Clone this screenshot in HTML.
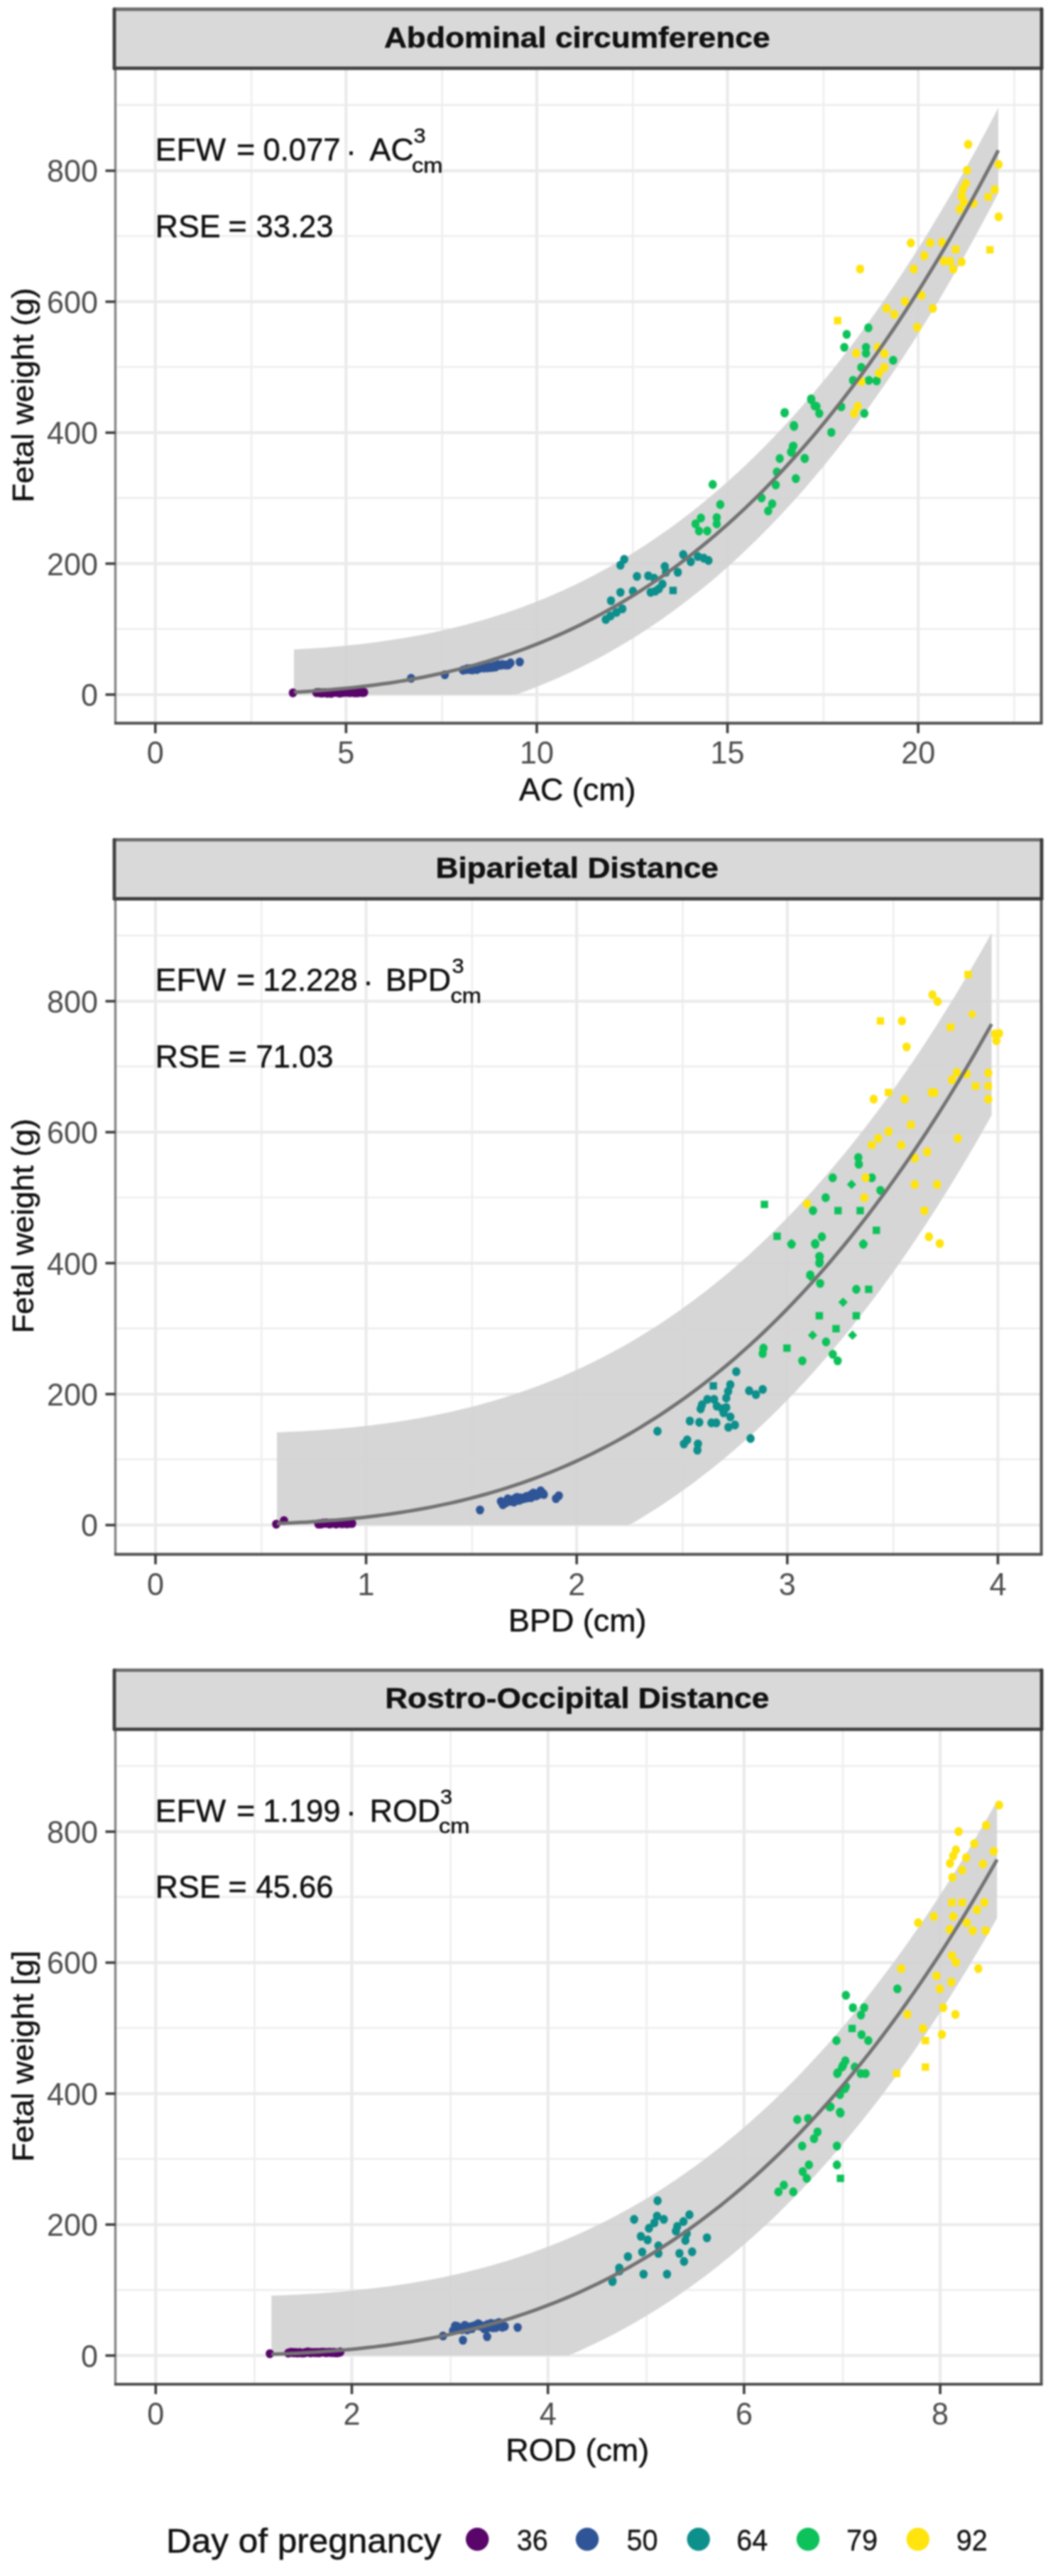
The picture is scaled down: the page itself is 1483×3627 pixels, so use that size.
<!DOCTYPE html>
<html lang="en"><head><meta charset="utf-8"><title>Fetal weight estimation</title>
<style>
html,body{margin:0;padding:0;background:#fff;}
body{width:1483px;height:3627px;overflow:hidden;}
svg{display:block;filter:blur(0.9px);}
</style></head><body>
<svg width="1483" height="3627" viewBox="0 0 1483 3627" font-family='"Liberation Sans", Arial, Helvetica, sans-serif' stroke-width="0.5">
<rect width="1483" height="3627" fill="#fff"/>
<g>
<clipPath id="cp0"><rect x="162.5" y="96.5" width="1303.5" height="921.8"/></clipPath>
<g clip-path="url(#cp0)">
<g stroke="#eaeaea"><line x1="162.5" x2="1466" y1="885.5" y2="885.5" stroke-width="2.6" stroke="#eeeeee"/><line x1="162.5" x2="1466" y1="701.1" y2="701.1" stroke-width="2.6" stroke="#eeeeee"/><line x1="162.5" x2="1466" y1="516.7" y2="516.7" stroke-width="2.6" stroke="#eeeeee"/><line x1="162.5" x2="1466" y1="332.3" y2="332.3" stroke-width="2.6" stroke="#eeeeee"/><line x1="162.5" x2="1466" y1="147.9" y2="147.9" stroke-width="2.6" stroke="#eeeeee"/><line x1="354.05" x2="354.05" y1="96.5" y2="1018.3" stroke-width="2.6" stroke="#eeeeee"/><line x1="622.65" x2="622.65" y1="96.5" y2="1018.3" stroke-width="2.6" stroke="#eeeeee"/><line x1="891.25" x2="891.25" y1="96.5" y2="1018.3" stroke-width="2.6" stroke="#eeeeee"/><line x1="1159.85" x2="1159.85" y1="96.5" y2="1018.3" stroke-width="2.6" stroke="#eeeeee"/><line x1="1428.45" x2="1428.45" y1="96.5" y2="1018.3" stroke-width="2.6" stroke="#eeeeee"/><line x1="162.5" x2="1466" y1="978" y2="978" stroke-width="4"/><line x1="162.5" x2="1466" y1="793.6" y2="793.6" stroke-width="4"/><line x1="162.5" x2="1466" y1="609.2" y2="609.2" stroke-width="4"/><line x1="162.5" x2="1466" y1="424.8" y2="424.8" stroke-width="4"/><line x1="162.5" x2="1466" y1="240.4" y2="240.4" stroke-width="4"/><line x1="218.75" x2="218.75" y1="96.5" y2="1018.3" stroke-width="4"/><line x1="487.35" x2="487.35" y1="96.5" y2="1018.3" stroke-width="4"/><line x1="755.95" x2="755.95" y1="96.5" y2="1018.3" stroke-width="4"/><line x1="1024.55" x2="1024.55" y1="96.5" y2="1018.3" stroke-width="4"/><line x1="1293.15" x2="1293.15" y1="96.5" y2="1018.3" stroke-width="4"/></g>
<path d="M414.02 914.54 L422.29 914.09 L430.55 913.6 L438.82 913.07 L447.09 912.5 L455.35 911.88 L463.62 911.23 L471.89 910.52 L480.15 909.77 L488.42 908.97 L496.68 908.12 L504.95 907.21 L513.22 906.26 L521.48 905.24 L529.75 904.17 L538.01 903.05 L546.28 901.86 L554.55 900.61 L562.81 899.3 L571.08 897.92 L579.35 896.48 L587.61 894.97 L595.88 893.39 L604.14 891.74 L612.41 890.01 L620.68 888.22 L628.94 886.34 L637.21 884.39 L645.47 882.37 L653.74 880.26 L662.01 878.07 L670.27 875.79 L678.54 873.44 L686.81 870.99 L695.07 868.46 L703.34 865.84 L711.6 863.13 L719.87 860.32 L728.14 857.42 L736.4 854.43 L744.67 851.33 L752.93 848.14 L761.2 844.85 L769.47 841.46 L777.73 837.96 L786 834.36 L794.27 830.66 L802.53 826.84 L810.8 822.91 L819.06 818.88 L827.33 814.73 L835.6 810.47 L843.86 806.09 L852.13 801.59 L860.4 796.97 L868.66 792.24 L876.93 787.38 L885.19 782.4 L893.46 777.29 L901.73 772.06 L909.99 766.7 L918.26 761.2 L926.52 755.58 L934.79 749.83 L943.06 743.94 L951.32 737.91 L959.59 731.75 L967.86 725.44 L976.12 719 L984.39 712.42 L992.65 705.69 L1000.92 698.81 L1009.19 691.79 L1017.45 684.62 L1025.72 677.3 L1033.98 669.83 L1042.25 662.21 L1050.52 654.43 L1058.78 646.49 L1067.05 638.4 L1075.32 630.15 L1083.58 621.73 L1091.85 613.16 L1100.11 604.42 L1108.38 595.51 L1116.65 586.44 L1124.91 577.2 L1133.18 567.79 L1141.44 558.21 L1149.71 548.45 L1157.98 538.52 L1166.24 528.42 L1174.51 518.13 L1182.78 507.67 L1191.04 497.03 L1199.31 486.2 L1207.57 475.19 L1215.84 463.99 L1224.11 452.61 L1232.37 441.03 L1240.64 429.27 L1248.9 417.31 L1257.17 405.17 L1265.44 392.82 L1273.7 380.28 L1281.97 367.54 L1290.24 354.61 L1298.5 341.47 L1306.77 328.13 L1315.03 314.58 L1323.3 300.83 L1331.57 286.87 L1339.83 272.7 L1348.1 258.32 L1356.37 243.73 L1364.63 228.93 L1372.9 213.91 L1381.16 198.67 L1389.43 183.22 L1397.7 167.55 L1405.96 151.65 L1405.96 271.75 L1397.7 287.65 L1389.43 303.32 L1381.16 318.77 L1372.9 334.01 L1364.63 349.03 L1356.37 363.83 L1348.1 378.42 L1339.83 392.8 L1331.57 406.97 L1323.3 420.93 L1315.03 434.68 L1306.77 448.23 L1298.5 461.57 L1290.24 474.71 L1281.97 487.65 L1273.7 500.38 L1265.44 512.92 L1257.17 525.27 L1248.9 537.42 L1240.64 549.37 L1232.37 561.13 L1224.11 572.71 L1215.84 584.09 L1207.57 595.29 L1199.31 606.3 L1191.04 617.13 L1182.78 627.77 L1174.51 638.24 L1166.24 648.52 L1157.98 658.63 L1149.71 668.56 L1141.44 678.31 L1133.18 687.89 L1124.91 697.3 L1116.65 706.54 L1108.38 715.62 L1100.11 724.52 L1091.85 733.26 L1083.58 741.83 L1075.32 750.25 L1067.05 758.5 L1058.78 766.59 L1050.52 774.53 L1042.25 782.31 L1033.98 789.93 L1025.72 797.4 L1017.45 804.72 L1009.19 811.89 L1000.92 818.91 L992.65 825.79 L984.39 832.52 L976.12 839.1 L967.86 845.55 L959.59 851.85 L951.32 858.01 L943.06 864.04 L934.79 869.93 L926.52 875.68 L918.26 881.31 L909.99 886.8 L901.73 892.16 L893.46 897.39 L885.19 902.5 L876.93 907.48 L868.66 912.34 L860.4 917.07 L852.13 921.69 L843.86 926.19 L835.6 930.57 L827.33 934.83 L819.06 938.98 L810.8 943.02 L802.53 946.94 L794.27 950.76 L786 954.46 L777.73 958.07 L769.47 961.56 L761.2 964.95 L752.93 968.25 L744.67 971.44 L736.4 974.53 L728.14 977.52 L719.87 978 L711.6 978 L703.34 978 L695.07 978 L686.81 978 L678.54 978 L670.27 978 L662.01 978 L653.74 978 L645.47 978 L637.21 978 L628.94 978 L620.68 978 L612.41 978 L604.14 978 L595.88 978 L587.61 978 L579.35 978 L571.08 978 L562.81 978 L554.55 978 L546.28 978 L538.01 978 L529.75 978 L521.48 978 L513.22 978 L504.95 978 L496.68 978 L488.42 978 L480.15 978 L471.89 978 L463.62 978 L455.35 978 L447.09 978 L438.82 978 L430.55 978 L422.29 978 L414.02 978 Z" fill="#d1d1d1" fill-opacity="0.9"/>
<g fill="#59056a"><ellipse cx="412.5" cy="975.5" rx="5.8" ry="6.3"/><ellipse cx="445.65" cy="975.23" rx="5.8" ry="6.3"/><ellipse cx="448.8" cy="975.06" rx="5.8" ry="6.3"/><ellipse cx="451.07" cy="975.5" rx="5.8" ry="6.3"/><ellipse cx="452.62" cy="975.7" rx="5.8" ry="6.3"/><ellipse cx="455.07" cy="975.55" rx="5.8" ry="6.3"/><ellipse cx="457.64" cy="974.96" rx="5.8" ry="6.3"/><ellipse cx="460.85" cy="976.1" rx="5.8" ry="6.3"/><ellipse cx="462.75" cy="975.1" rx="5.8" ry="6.3"/><ellipse cx="466.25" cy="976.21" rx="5.8" ry="6.3"/><ellipse cx="468.65" cy="975.3" rx="5.8" ry="6.3"/><ellipse cx="471.95" cy="974.69" rx="5.8" ry="6.3"/><ellipse cx="474.22" cy="975.05" rx="5.8" ry="6.3"/><ellipse cx="475.29" cy="974.76" rx="5.8" ry="6.3"/><ellipse cx="478.12" cy="975.83" rx="5.8" ry="6.3"/><ellipse cx="480.36" cy="975.43" rx="5.8" ry="6.3"/><ellipse cx="483.78" cy="975.04" rx="5.8" ry="6.3"/><ellipse cx="486.1" cy="974.51" rx="5.8" ry="6.3"/><ellipse cx="487.62" cy="974.72" rx="5.8" ry="6.3"/><ellipse cx="491.36" cy="975.02" rx="5.8" ry="6.3"/><ellipse cx="493.13" cy="975.25" rx="5.8" ry="6.3"/><ellipse cx="495.91" cy="974.75" rx="5.8" ry="6.3"/><ellipse cx="499.09" cy="975.35" rx="5.8" ry="6.3"/><ellipse cx="500.49" cy="975.13" rx="5.8" ry="6.3"/><ellipse cx="503.55" cy="975.56" rx="5.8" ry="6.3"/><ellipse cx="506.46" cy="974.58" rx="5.8" ry="6.3"/><ellipse cx="509.46" cy="974.27" rx="5.8" ry="6.3"/><ellipse cx="510.84" cy="975.27" rx="5.8" ry="6.3"/><ellipse cx="512.8" cy="974.81" rx="5.8" ry="6.3"/></g>
<g fill="#2f5597"><ellipse cx="579" cy="955" rx="5.8" ry="6.3"/><ellipse cx="626.5" cy="950" rx="5.8" ry="6.3"/><ellipse cx="732" cy="932" rx="5.8" ry="6.3"/><ellipse cx="652.07" cy="943.66" rx="5.8" ry="6.3"/><ellipse cx="655.65" cy="942.86" rx="5.8" ry="6.3"/><ellipse cx="658.12" cy="941.53" rx="5.8" ry="6.3"/><ellipse cx="660.06" cy="942.43" rx="5.8" ry="6.3"/><ellipse cx="662.12" cy="941.63" rx="5.8" ry="6.3"/><ellipse cx="664.86" cy="943.27" rx="5.8" ry="6.3"/><ellipse cx="666.46" cy="941.96" rx="5.8" ry="6.3"/><ellipse cx="667.98" cy="941.93" rx="5.8" ry="6.3"/><ellipse cx="671.31" cy="942.7" rx="5.8" ry="6.3"/><ellipse cx="673.89" cy="939.56" rx="5.8" ry="6.3"/><ellipse cx="675.37" cy="940.93" rx="5.8" ry="6.3"/><ellipse cx="676.97" cy="939.91" rx="5.8" ry="6.3"/><ellipse cx="679.5" cy="938.23" rx="5.8" ry="6.3"/><ellipse cx="681.57" cy="940.59" rx="5.8" ry="6.3"/><ellipse cx="683.97" cy="938.23" rx="5.8" ry="6.3"/><ellipse cx="686.71" cy="940.4" rx="5.8" ry="6.3"/><ellipse cx="688.41" cy="938.51" rx="5.8" ry="6.3"/><ellipse cx="691.53" cy="939.88" rx="5.8" ry="6.3"/><ellipse cx="694.29" cy="939.48" rx="5.8" ry="6.3"/><ellipse cx="695.57" cy="937.54" rx="5.8" ry="6.3"/><ellipse cx="697.98" cy="939.13" rx="5.8" ry="6.3"/><ellipse cx="701.34" cy="935.8" rx="5.8" ry="6.3"/><ellipse cx="702.19" cy="936.02" rx="5.8" ry="6.3"/><ellipse cx="704.56" cy="936.76" rx="5.8" ry="6.3"/><ellipse cx="707.47" cy="935.53" rx="5.8" ry="6.3"/><ellipse cx="708.67" cy="936.01" rx="5.8" ry="6.3"/><ellipse cx="711.6" cy="936.25" rx="5.8" ry="6.3"/><ellipse cx="714.93" cy="936.36" rx="5.8" ry="6.3"/><ellipse cx="716.4" cy="935.89" rx="5.8" ry="6.3"/><ellipse cx="718.96" cy="933.34" rx="5.8" ry="6.3"/></g>
<g fill="#0d8f8c"><ellipse cx="879.11" cy="787.51" rx="5.8" ry="6.3"/><ellipse cx="873.79" cy="795.82" rx="5.8" ry="6.3"/><ellipse cx="897.06" cy="811.44" rx="5.8" ry="6.3"/><ellipse cx="913.01" cy="810.78" rx="5.8" ry="6.3"/><ellipse cx="921.32" cy="814.1" rx="5.8" ry="6.3"/><ellipse cx="936.28" cy="797.48" rx="5.8" ry="6.3"/><ellipse cx="937.94" cy="805.79" rx="5.8" ry="6.3"/><ellipse cx="962.2" cy="780.86" rx="5.8" ry="6.3"/><ellipse cx="954.56" cy="805.79" rx="5.8" ry="6.3"/><ellipse cx="972.84" cy="790.83" rx="5.8" ry="6.3"/><ellipse cx="982.81" cy="783.52" rx="5.8" ry="6.3"/><ellipse cx="991.12" cy="785.85" rx="5.8" ry="6.3"/><ellipse cx="997.77" cy="789.17" rx="5.8" ry="6.3"/><ellipse cx="932.95" cy="822.41" rx="5.8" ry="6.3"/><ellipse cx="927.97" cy="829.06" rx="5.8" ry="6.3"/><ellipse cx="916.33" cy="834.04" rx="5.8" ry="6.3"/><ellipse cx="922.98" cy="832.38" rx="5.8" ry="6.3"/><rect x="942.71" y="826.18" width="10.4" height="10.4"/><ellipse cx="891.4" cy="832.38" rx="5.8" ry="6.3"/><ellipse cx="873.79" cy="834.04" rx="5.8" ry="6.3"/><ellipse cx="860.49" cy="845.68" rx="5.8" ry="6.3"/><ellipse cx="876.45" cy="857.31" rx="5.8" ry="6.3"/><ellipse cx="868.14" cy="862.29" rx="5.8" ry="6.3"/><ellipse cx="859.83" cy="867.28" rx="5.8" ry="6.3"/><ellipse cx="853.18" cy="872.27" rx="5.8" ry="6.3"/></g>
<g fill="#0dc25a"><ellipse cx="1222.98" cy="461.44" rx="5.8" ry="6.3"/><ellipse cx="1192.4" cy="470.75" rx="5.8" ry="6.3"/><ellipse cx="1189.08" cy="489.03" rx="5.8" ry="6.3"/><ellipse cx="1219.66" cy="489.03" rx="5.8" ry="6.3"/><ellipse cx="1219.66" cy="497.34" rx="5.8" ry="6.3"/><ellipse cx="1257.88" cy="507.31" rx="5.8" ry="6.3"/><ellipse cx="1213.01" cy="517.28" rx="5.8" ry="6.3"/><ellipse cx="1201.38" cy="535.56" rx="5.8" ry="6.3"/><ellipse cx="1223.65" cy="535.56" rx="5.8" ry="6.3"/><ellipse cx="1234.61" cy="536.23" rx="5.8" ry="6.3"/><ellipse cx="1142.54" cy="562.82" rx="5.8" ry="6.3"/><ellipse cx="1149.86" cy="572.12" rx="5.8" ry="6.3"/><ellipse cx="1153.85" cy="582.09" rx="5.8" ry="6.3"/><ellipse cx="1184.76" cy="572.79" rx="5.8" ry="6.3"/><ellipse cx="1217.33" cy="582.09" rx="5.8" ry="6.3"/><ellipse cx="1104.99" cy="581.43" rx="5.8" ry="6.3"/><ellipse cx="1118.28" cy="600.38" rx="5.8" ry="6.3"/><ellipse cx="1170.8" cy="608.69" rx="5.8" ry="6.3"/><ellipse cx="1116.62" cy="628.63" rx="5.8" ry="6.3"/><ellipse cx="1114.96" cy="636.94" rx="5.8" ry="6.3"/><ellipse cx="1133.24" cy="645.25" rx="5.8" ry="6.3"/><ellipse cx="1105.13" cy="580.77" rx="5.8" ry="6.3"/><ellipse cx="1142.35" cy="561.49" rx="5.8" ry="6.3"/><ellipse cx="1147.34" cy="571.46" rx="5.8" ry="6.3"/><ellipse cx="1118.09" cy="599.05" rx="5.8" ry="6.3"/><ellipse cx="1117.42" cy="627.97" rx="5.8" ry="6.3"/><ellipse cx="1114.1" cy="636.28" rx="5.8" ry="6.3"/><ellipse cx="1098.15" cy="645.58" rx="5.8" ry="6.3"/><ellipse cx="1133.38" cy="645.58" rx="5.8" ry="6.3"/><ellipse cx="1094.16" cy="664.53" rx="5.8" ry="6.3"/><ellipse cx="1120.75" cy="673.84" rx="5.8" ry="6.3"/><ellipse cx="1092.49" cy="682.81" rx="5.8" ry="6.3"/><ellipse cx="1072.55" cy="701.09" rx="5.8" ry="6.3"/><ellipse cx="1087.51" cy="709.4" rx="5.8" ry="6.3"/><ellipse cx="1081.86" cy="719.37" rx="5.8" ry="6.3"/><ellipse cx="1003.75" cy="682.14" rx="5.8" ry="6.3"/><ellipse cx="1014.39" cy="710.4" rx="5.8" ry="6.3"/><ellipse cx="1009.4" cy="728.68" rx="5.8" ry="6.3"/><ellipse cx="987.13" cy="729.34" rx="5.8" ry="6.3"/><ellipse cx="979.49" cy="737.65" rx="5.8" ry="6.3"/><ellipse cx="1009.4" cy="737.65" rx="5.8" ry="6.3"/><ellipse cx="984.47" cy="747.62" rx="5.8" ry="6.3"/><ellipse cx="996.1" cy="747.62" rx="5.8" ry="6.3"/></g>
<g fill="#ffe40d"><ellipse cx="1363.58" cy="203.18" rx="5.8" ry="6.3"/><ellipse cx="1406.45" cy="231.43" rx="5.8" ry="6.3"/><ellipse cx="1361.92" cy="239.74" rx="5.8" ry="6.3"/><ellipse cx="1360.25" cy="258.02" rx="5.8" ry="6.3"/><ellipse cx="1355.93" cy="266.33" rx="5.8" ry="6.3"/><ellipse cx="1354.27" cy="276.3" rx="5.8" ry="6.3"/><ellipse cx="1357.59" cy="284.61" rx="5.8" ry="6.3"/><ellipse cx="1351.61" cy="294.59" rx="5.8" ry="6.3"/><ellipse cx="1370.89" cy="286.28" rx="5.8" ry="6.3"/><ellipse cx="1400.8" cy="267" rx="5.8" ry="6.3"/><rect x="1386.63" y="272.1" width="10.4" height="10.4"/><ellipse cx="1406.45" cy="305.22" rx="5.8" ry="6.3"/><rect x="1388.96" y="346.55" width="10.4" height="10.4"/><ellipse cx="1282.81" cy="342.12" rx="5.8" ry="6.3"/><ellipse cx="1310.06" cy="341.78" rx="5.8" ry="6.3"/><ellipse cx="1326.68" cy="341.12" rx="5.8" ry="6.3"/><rect x="1340.76" y="345.89" width="10.4" height="10.4"/><ellipse cx="1301.75" cy="360.06" rx="5.8" ry="6.3"/><ellipse cx="1329.34" cy="367.71" rx="5.8" ry="6.3"/><ellipse cx="1337.65" cy="367.71" rx="5.8" ry="6.3"/><ellipse cx="1354.27" cy="368.71" rx="5.8" ry="6.3"/><ellipse cx="1342.64" cy="378.68" rx="5.8" ry="6.3"/><ellipse cx="1286.8" cy="378.68" rx="5.8" ry="6.3"/><ellipse cx="1211.35" cy="378.68" rx="5.8" ry="6.3"/><ellipse cx="1297.77" cy="415.9" rx="5.8" ry="6.3"/><ellipse cx="1274.5" cy="424.21" rx="5.8" ry="6.3"/><ellipse cx="1248.57" cy="434.19" rx="5.8" ry="6.3"/><ellipse cx="1259.54" cy="442.49" rx="5.8" ry="6.3"/><ellipse cx="1313.72" cy="434.19" rx="5.8" ry="6.3"/><ellipse cx="1291.78" cy="460.78" rx="5.8" ry="6.3"/><rect x="1174.57" y="446.27" width="10.4" height="10.4"/><ellipse cx="1205.7" cy="497.34" rx="5.8" ry="6.3"/><ellipse cx="1236.28" cy="489.03" rx="5.8" ry="6.3"/><ellipse cx="1245.58" cy="498" rx="5.8" ry="6.3"/><ellipse cx="1245.25" cy="517.28" rx="5.8" ry="6.3"/><ellipse cx="1237.94" cy="525.59" rx="5.8" ry="6.3"/><ellipse cx="1213.01" cy="537.22" rx="5.8" ry="6.3"/><ellipse cx="1208.02" cy="572.12" rx="5.8" ry="6.3"/><ellipse cx="1203.04" cy="582.09" rx="5.8" ry="6.3"/></g>
<path d="M414.02 974.59 L422.29 974.14 L430.55 973.65 L438.82 973.12 L447.09 972.55 L455.35 971.93 L463.62 971.28 L471.89 970.57 L480.15 969.82 L488.42 969.02 L496.68 968.17 L504.95 967.26 L513.22 966.31 L521.48 965.29 L529.75 964.23 L538.01 963.1 L546.28 961.91 L554.55 960.66 L562.81 959.35 L571.08 957.97 L579.35 956.53 L587.61 955.02 L595.88 953.44 L604.14 951.79 L612.41 950.06 L620.68 948.27 L628.94 946.39 L637.21 944.44 L645.47 942.42 L653.74 940.31 L662.01 938.12 L670.27 935.84 L678.54 933.49 L686.81 931.04 L695.07 928.51 L703.34 925.89 L711.6 923.18 L719.87 920.37 L728.14 917.47 L736.4 914.48 L744.67 911.39 L752.93 908.19 L761.2 904.9 L769.47 901.51 L777.73 898.01 L786 894.41 L794.27 890.71 L802.53 886.89 L810.8 882.96 L819.06 878.93 L827.33 874.78 L835.6 870.52 L843.86 866.14 L852.13 861.64 L860.4 857.02 L868.66 852.29 L876.93 847.43 L885.19 842.45 L893.46 837.34 L901.73 832.11 L909.99 826.75 L918.26 821.26 L926.52 815.63 L934.79 809.88 L943.06 803.99 L951.32 797.96 L959.59 791.8 L967.86 785.49 L976.12 779.05 L984.39 772.47 L992.65 765.74 L1000.92 758.86 L1009.19 751.84 L1017.45 744.67 L1025.72 737.35 L1033.98 729.88 L1042.25 722.26 L1050.52 714.48 L1058.78 706.54 L1067.05 698.45 L1075.32 690.2 L1083.58 681.78 L1091.85 673.21 L1100.11 664.47 L1108.38 655.57 L1116.65 646.49 L1124.91 637.25 L1133.18 627.84 L1141.44 618.26 L1149.71 608.51 L1157.98 598.58 L1166.24 588.47 L1174.51 578.18 L1182.78 567.72 L1191.04 557.08 L1199.31 546.25 L1207.57 535.24 L1215.84 524.04 L1224.11 512.66 L1232.37 501.08 L1240.64 489.32 L1248.9 477.37 L1257.17 465.22 L1265.44 452.87 L1273.7 440.33 L1281.97 427.59 L1290.24 414.66 L1298.5 401.52 L1306.77 388.18 L1315.03 374.63 L1323.3 360.88 L1331.57 346.92 L1339.83 332.75 L1348.1 318.37 L1356.37 303.78 L1364.63 288.98 L1372.9 273.96 L1381.16 258.72 L1389.43 243.27 L1397.7 227.6 L1405.96 211.7" fill="none" stroke="#737373" stroke-width="5" stroke-linecap="butt" stroke-linejoin="round"/>
</g>
<line x1="162.5" x2="162.5" y1="96.5" y2="1019.8" stroke="#858585" stroke-width="3.4"/>
<line x1="1466.6" x2="1466.6" y1="96.5" y2="1019.8" stroke="#555555" stroke-width="4"/>
<line x1="161" x2="1468.2" y1="1018.3" y2="1018.3" stroke="#505050" stroke-width="4"/>
<rect x="161" y="13" width="1306" height="83.5" fill="#d9d9d9"/>
<g stroke-width="4.8" stroke-linecap="round">
<line x1="161" x2="1467" y1="13" y2="13" stroke="#6e6e6e"/>
<line x1="161" x2="1467" y1="96.2" y2="96.2" stroke="#414141"/>
<line x1="161" x2="161" y1="13" y2="96.5" stroke="#414141"/>
<line x1="1467" x2="1467" y1="13" y2="96.5" stroke="#3a3a3a"/>
</g>
<text transform="translate(812.7 66.5) scale(1.08 1)" font-size="41" fill="#111" stroke="#111" text-anchor="middle" font-weight="bold">Abdominal circumference</text>
<g stroke="#3d3d3d" stroke-width="3.6"><line x1="148.5" x2="162.5" y1="978" y2="978"/><line x1="148.5" x2="162.5" y1="793.6" y2="793.6"/><line x1="148.5" x2="162.5" y1="609.2" y2="609.2"/><line x1="148.5" x2="162.5" y1="424.8" y2="424.8"/><line x1="148.5" x2="162.5" y1="240.4" y2="240.4"/><line x1="218.75" x2="218.75" y1="1018.3" y2="1032.3"/><line x1="487.35" x2="487.35" y1="1018.3" y2="1032.3"/><line x1="755.95" x2="755.95" y1="1018.3" y2="1032.3"/><line x1="1024.55" x2="1024.55" y1="1018.3" y2="1032.3"/><line x1="1293.15" x2="1293.15" y1="1018.3" y2="1032.3"/></g>
<text transform="translate(138 994) scale(0.97 1)" font-size="44.5" fill="#4d4d4d" stroke="#4d4d4d" text-anchor="end" font-weight="normal" stroke-width="0">0</text>
<text transform="translate(138 809.6) scale(0.97 1)" font-size="44.5" fill="#4d4d4d" stroke="#4d4d4d" text-anchor="end" font-weight="normal" stroke-width="0">200</text>
<text transform="translate(138 625.2) scale(0.97 1)" font-size="44.5" fill="#4d4d4d" stroke="#4d4d4d" text-anchor="end" font-weight="normal" stroke-width="0">400</text>
<text transform="translate(138 440.8) scale(0.97 1)" font-size="44.5" fill="#4d4d4d" stroke="#4d4d4d" text-anchor="end" font-weight="normal" stroke-width="0">600</text>
<text transform="translate(138 256.4) scale(0.97 1)" font-size="44.5" fill="#4d4d4d" stroke="#4d4d4d" text-anchor="end" font-weight="normal" stroke-width="0">800</text>
<text transform="translate(218.75 1075.3) scale(0.97 1)" font-size="44.5" fill="#4d4d4d" stroke="#4d4d4d" text-anchor="middle" font-weight="normal" stroke-width="0">0</text>
<text transform="translate(487.35 1075.3) scale(0.97 1)" font-size="44.5" fill="#4d4d4d" stroke="#4d4d4d" text-anchor="middle" font-weight="normal" stroke-width="0">5</text>
<text transform="translate(755.95 1075.3) scale(0.97 1)" font-size="44.5" fill="#4d4d4d" stroke="#4d4d4d" text-anchor="middle" font-weight="normal" stroke-width="0">10</text>
<text transform="translate(1024.55 1075.3) scale(0.97 1)" font-size="44.5" fill="#4d4d4d" stroke="#4d4d4d" text-anchor="middle" font-weight="normal" stroke-width="0">15</text>
<text transform="translate(1293.15 1075.3) scale(0.97 1)" font-size="44.5" fill="#4d4d4d" stroke="#4d4d4d" text-anchor="middle" font-weight="normal" stroke-width="0">20</text>
<text transform="translate(813.25 1126.8) scale(1.02 1)" font-size="44" fill="#111" stroke="#111" text-anchor="middle" font-weight="normal">AC (cm)</text>
<text transform="translate(46.5 556.4) rotate(-90) scale(1.02 1)" font-size="43" fill="#111" stroke="#111" text-anchor="middle" font-weight="normal">Fetal weight (g)</text>
<text transform="translate(218.5 226) scale(1.02 1)" font-size="44" fill="#111" stroke="#111" text-anchor="start" font-weight="normal">EFW</text>
<text transform="translate(333 226) scale(1.02 1)" font-size="44" fill="#111" stroke="#111" text-anchor="start" font-weight="normal">=</text>
<text transform="translate(370.5 226) scale(0.99 1)" font-size="44" fill="#111" stroke="#111" text-anchor="start" font-weight="normal">0.077</text>
<text transform="translate(494.5 227.5) scale(1.02 1)" font-size="44" fill="#111" stroke="#111" text-anchor="middle" font-weight="normal">&#183;</text>
<text transform="translate(520.5 226) scale(1.02 1)" font-size="44" fill="#111" stroke="#111" text-anchor="start" font-weight="normal">AC</text>
<text transform="translate(582.5 201) scale(1.02 1)" font-size="30" fill="#111" stroke="#111" text-anchor="start" font-weight="normal">3</text>
<text transform="translate(580 242.5) scale(1.09 1)" font-size="30" fill="#111" stroke="#111" text-anchor="start" font-weight="normal">cm</text>
<text transform="translate(218.5 333.5) scale(1.02 1)" font-size="44" fill="#111" stroke="#111" text-anchor="start" font-weight="normal">RSE</text>
<text transform="translate(321.5 333.5) scale(1.02 1)" font-size="44" fill="#111" stroke="#111" text-anchor="start" font-weight="normal">=</text>
<text transform="translate(360.5 333.5) scale(0.99 1)" font-size="44" fill="#111" stroke="#111" text-anchor="start" font-weight="normal">33.23</text>
</g>
<g>
<clipPath id="cp1"><rect x="162.5" y="1265.8" width="1303.5" height="922.7"/></clipPath>
<g clip-path="url(#cp1)">
<g stroke="#eaeaea"><line x1="162.5" x2="1466" y1="2054.8" y2="2054.8" stroke-width="2.6" stroke="#eeeeee"/><line x1="162.5" x2="1466" y1="1870.4" y2="1870.4" stroke-width="2.6" stroke="#eeeeee"/><line x1="162.5" x2="1466" y1="1686" y2="1686" stroke-width="2.6" stroke="#eeeeee"/><line x1="162.5" x2="1466" y1="1501.6" y2="1501.6" stroke-width="2.6" stroke="#eeeeee"/><line x1="162.5" x2="1466" y1="1317.2" y2="1317.2" stroke-width="2.6" stroke="#eeeeee"/><line x1="368.3" x2="368.3" y1="1265.8" y2="2188.5" stroke-width="2.6" stroke="#eeeeee"/><line x1="664.9" x2="664.9" y1="1265.8" y2="2188.5" stroke-width="2.6" stroke="#eeeeee"/><line x1="961.5" x2="961.5" y1="1265.8" y2="2188.5" stroke-width="2.6" stroke="#eeeeee"/><line x1="1258.1" x2="1258.1" y1="1265.8" y2="2188.5" stroke-width="2.6" stroke="#eeeeee"/><line x1="162.5" x2="1466" y1="2147.3" y2="2147.3" stroke-width="4"/><line x1="162.5" x2="1466" y1="1962.9" y2="1962.9" stroke-width="4"/><line x1="162.5" x2="1466" y1="1778.5" y2="1778.5" stroke-width="4"/><line x1="162.5" x2="1466" y1="1594.1" y2="1594.1" stroke-width="4"/><line x1="162.5" x2="1466" y1="1409.7" y2="1409.7" stroke-width="4"/><line x1="219" x2="219" y1="1265.8" y2="2188.5" stroke-width="4"/><line x1="515.6" x2="515.6" y1="1265.8" y2="2188.5" stroke-width="4"/><line x1="812.2" x2="812.2" y1="1265.8" y2="2188.5" stroke-width="4"/><line x1="1108.8" x2="1108.8" y1="1265.8" y2="2188.5" stroke-width="4"/><line x1="1405.4" x2="1405.4" y1="1265.8" y2="2188.5" stroke-width="4"/></g>
<path d="M389.99 2016.78 L398.38 2016.45 L406.77 2016.08 L415.15 2015.68 L423.54 2015.24 L431.93 2014.77 L440.32 2014.26 L448.7 2013.7 L457.09 2013.11 L465.48 2012.47 L473.87 2011.79 L482.25 2011.06 L490.64 2010.28 L499.03 2009.45 L507.42 2008.57 L515.8 2007.64 L524.19 2006.66 L532.58 2005.62 L540.97 2004.52 L549.35 2003.36 L557.74 2002.15 L566.13 2000.87 L574.52 1999.52 L582.9 1998.12 L591.29 1996.64 L599.68 1995.1 L608.07 1993.49 L616.46 1991.81 L624.84 1990.06 L633.23 1988.23 L641.62 1986.33 L650.01 1984.34 L658.39 1982.29 L666.78 1980.15 L675.17 1977.92 L683.56 1975.62 L691.94 1973.23 L700.33 1970.76 L708.72 1968.19 L717.11 1965.54 L725.49 1962.8 L733.88 1959.96 L742.27 1957.03 L750.66 1954.01 L759.04 1950.89 L767.43 1947.66 L775.82 1944.34 L784.21 1940.92 L792.59 1937.4 L800.98 1933.77 L809.37 1930.03 L817.76 1926.19 L826.15 1922.23 L834.53 1918.17 L842.92 1914 L851.31 1909.71 L859.7 1905.3 L868.08 1900.78 L876.47 1896.14 L884.86 1891.38 L893.25 1886.5 L901.63 1881.49 L910.02 1876.36 L918.41 1871.11 L926.8 1865.73 L935.18 1860.21 L943.57 1854.57 L951.96 1848.8 L960.35 1842.89 L968.73 1836.85 L977.12 1830.67 L985.51 1824.35 L993.9 1817.89 L1002.28 1811.29 L1010.67 1804.55 L1019.06 1797.66 L1027.45 1790.63 L1035.84 1783.45 L1044.22 1776.12 L1052.61 1768.64 L1061 1761.01 L1069.39 1753.22 L1077.77 1745.28 L1086.16 1737.19 L1094.55 1728.93 L1102.94 1720.52 L1111.32 1711.94 L1119.71 1703.2 L1128.1 1694.3 L1136.49 1685.23 L1144.87 1675.99 L1153.26 1666.59 L1161.65 1657.01 L1170.04 1647.26 L1178.42 1637.34 L1186.81 1627.25 L1195.2 1616.97 L1203.59 1606.52 L1211.97 1595.89 L1220.36 1585.08 L1228.75 1574.09 L1237.14 1562.91 L1245.53 1551.55 L1253.91 1540 L1262.3 1528.26 L1270.69 1516.33 L1279.08 1504.21 L1287.46 1491.89 L1295.85 1479.38 L1304.24 1466.67 L1312.63 1453.77 L1321.01 1440.67 L1329.4 1427.36 L1337.79 1413.85 L1346.18 1400.14 L1354.56 1386.23 L1362.95 1372.1 L1371.34 1357.77 L1379.73 1343.23 L1388.11 1328.47 L1396.5 1313.5 L1396.5 1570.22 L1388.11 1585.19 L1379.73 1599.95 L1371.34 1614.49 L1362.95 1628.82 L1354.56 1642.95 L1346.18 1656.86 L1337.79 1670.57 L1329.4 1684.08 L1321.01 1697.39 L1312.63 1710.49 L1304.24 1723.39 L1295.85 1736.1 L1287.46 1748.61 L1279.08 1760.93 L1270.69 1773.05 L1262.3 1784.98 L1253.91 1796.72 L1245.53 1808.27 L1237.14 1819.63 L1228.75 1830.81 L1220.36 1841.8 L1211.97 1852.61 L1203.59 1863.24 L1195.2 1873.69 L1186.81 1883.97 L1178.42 1894.06 L1170.04 1903.98 L1161.65 1913.73 L1153.26 1923.31 L1144.87 1932.71 L1136.49 1941.95 L1128.1 1951.02 L1119.71 1959.92 L1111.32 1968.66 L1102.94 1977.23 L1094.55 1985.65 L1086.16 1993.9 L1077.77 2002 L1069.39 2009.94 L1061 2017.73 L1052.61 2025.36 L1044.22 2032.84 L1035.84 2040.17 L1027.45 2047.35 L1019.06 2054.38 L1010.67 2061.27 L1002.28 2068.01 L993.9 2074.61 L985.51 2081.07 L977.12 2087.39 L968.73 2093.57 L960.35 2099.61 L951.96 2105.52 L943.57 2111.29 L935.18 2116.93 L926.8 2122.45 L918.41 2127.83 L910.02 2133.08 L901.63 2138.21 L893.25 2143.22 L884.86 2147.3 L876.47 2147.3 L868.08 2147.3 L859.7 2147.3 L851.31 2147.3 L842.92 2147.3 L834.53 2147.3 L826.15 2147.3 L817.76 2147.3 L809.37 2147.3 L800.98 2147.3 L792.59 2147.3 L784.21 2147.3 L775.82 2147.3 L767.43 2147.3 L759.04 2147.3 L750.66 2147.3 L742.27 2147.3 L733.88 2147.3 L725.49 2147.3 L717.11 2147.3 L708.72 2147.3 L700.33 2147.3 L691.94 2147.3 L683.56 2147.3 L675.17 2147.3 L666.78 2147.3 L658.39 2147.3 L650.01 2147.3 L641.62 2147.3 L633.23 2147.3 L624.84 2147.3 L616.46 2147.3 L608.07 2147.3 L599.68 2147.3 L591.29 2147.3 L582.9 2147.3 L574.52 2147.3 L566.13 2147.3 L557.74 2147.3 L549.35 2147.3 L540.97 2147.3 L532.58 2147.3 L524.19 2147.3 L515.8 2147.3 L507.42 2147.3 L499.03 2147.3 L490.64 2147.3 L482.25 2147.3 L473.87 2147.3 L465.48 2147.3 L457.09 2147.3 L448.7 2147.3 L440.32 2147.3 L431.93 2147.3 L423.54 2147.3 L415.15 2147.3 L406.77 2147.3 L398.38 2147.3 L389.99 2147.3 Z" fill="#d1d1d1" fill-opacity="0.9"/>
<g fill="#59056a"><ellipse cx="389" cy="2146" rx="5.8" ry="6.3"/><ellipse cx="400" cy="2141" rx="5.8" ry="6.3"/><ellipse cx="448.38" cy="2145.92" rx="5.8" ry="6.3"/><ellipse cx="450.27" cy="2145.91" rx="5.8" ry="6.3"/><ellipse cx="451.45" cy="2145.25" rx="5.8" ry="6.3"/><ellipse cx="452.93" cy="2145.6" rx="5.8" ry="6.3"/><ellipse cx="454.79" cy="2144.65" rx="5.8" ry="6.3"/><ellipse cx="456.94" cy="2144.76" rx="5.8" ry="6.3"/><ellipse cx="459.06" cy="2144.54" rx="5.8" ry="6.3"/><ellipse cx="460.46" cy="2144.67" rx="5.8" ry="6.3"/><ellipse cx="462.54" cy="2144.97" rx="5.8" ry="6.3"/><ellipse cx="464.35" cy="2145.75" rx="5.8" ry="6.3"/><ellipse cx="467.18" cy="2144.53" rx="5.8" ry="6.3"/><ellipse cx="468.54" cy="2144.82" rx="5.8" ry="6.3"/><ellipse cx="470.64" cy="2144.42" rx="5.8" ry="6.3"/><ellipse cx="473.31" cy="2145.76" rx="5.8" ry="6.3"/><ellipse cx="474.64" cy="2144.92" rx="5.8" ry="6.3"/><ellipse cx="475.98" cy="2144.28" rx="5.8" ry="6.3"/><ellipse cx="478.3" cy="2144.5" rx="5.8" ry="6.3"/><ellipse cx="480.97" cy="2144.28" rx="5.8" ry="6.3"/><ellipse cx="481.65" cy="2145.53" rx="5.8" ry="6.3"/><ellipse cx="484.35" cy="2144.19" rx="5.8" ry="6.3"/><ellipse cx="486.3" cy="2143.96" rx="5.8" ry="6.3"/><ellipse cx="488.2" cy="2145.44" rx="5.8" ry="6.3"/><ellipse cx="490.64" cy="2144.94" rx="5.8" ry="6.3"/><ellipse cx="491.63" cy="2144.39" rx="5.8" ry="6.3"/><ellipse cx="493.41" cy="2145.01" rx="5.8" ry="6.3"/><ellipse cx="495.9" cy="2144.97" rx="5.8" ry="6.3"/></g>
<g fill="#2f5597"><ellipse cx="676" cy="2126" rx="5.8" ry="6.3"/><ellipse cx="787" cy="2106" rx="5.8" ry="6.3"/><ellipse cx="783" cy="2110" rx="5.8" ry="6.3"/><ellipse cx="705.51" cy="2113.94" rx="5.8" ry="6.3"/><ellipse cx="708.2" cy="2118.62" rx="5.8" ry="6.3"/><ellipse cx="710.2" cy="2116.89" rx="5.8" ry="6.3"/><ellipse cx="712.08" cy="2115.97" rx="5.8" ry="6.3"/><ellipse cx="713.1" cy="2114.16" rx="5.8" ry="6.3"/><ellipse cx="715.24" cy="2110.23" rx="5.8" ry="6.3"/><ellipse cx="716.67" cy="2111.63" rx="5.8" ry="6.3"/><ellipse cx="718.96" cy="2113.97" rx="5.8" ry="6.3"/><ellipse cx="721.98" cy="2111.52" rx="5.8" ry="6.3"/><ellipse cx="723.89" cy="2114.85" rx="5.8" ry="6.3"/><ellipse cx="725.86" cy="2110.01" rx="5.8" ry="6.3"/><ellipse cx="726.65" cy="2108.85" rx="5.8" ry="6.3"/><ellipse cx="728.55" cy="2108.23" rx="5.8" ry="6.3"/><ellipse cx="731.15" cy="2112.47" rx="5.8" ry="6.3"/><ellipse cx="733.43" cy="2108.98" rx="5.8" ry="6.3"/><ellipse cx="735.07" cy="2110.82" rx="5.8" ry="6.3"/><ellipse cx="736.13" cy="2109.59" rx="5.8" ry="6.3"/><ellipse cx="739.35" cy="2109.67" rx="5.8" ry="6.3"/><ellipse cx="741.04" cy="2107.13" rx="5.8" ry="6.3"/><ellipse cx="742.09" cy="2109.05" rx="5.8" ry="6.3"/><ellipse cx="744.27" cy="2108.61" rx="5.8" ry="6.3"/><ellipse cx="747.19" cy="2105.06" rx="5.8" ry="6.3"/><ellipse cx="748.25" cy="2108.66" rx="5.8" ry="6.3"/><ellipse cx="750.69" cy="2102.64" rx="5.8" ry="6.3"/><ellipse cx="751.7" cy="2102.26" rx="5.8" ry="6.3"/><ellipse cx="754.84" cy="2106.09" rx="5.8" ry="6.3"/><ellipse cx="755.6" cy="2106.04" rx="5.8" ry="6.3"/><ellipse cx="758.83" cy="2104.08" rx="5.8" ry="6.3"/><ellipse cx="759.79" cy="2103.08" rx="5.8" ry="6.3"/><ellipse cx="761.39" cy="2098.96" rx="5.8" ry="6.3"/><ellipse cx="764.63" cy="2102.62" rx="5.8" ry="6.3"/><ellipse cx="765.88" cy="2104.31" rx="5.8" ry="6.3"/></g>
<g fill="#0d8f8c"><ellipse cx="1036.89" cy="1931.2" rx="5.8" ry="6.3"/><rect x="999.41" y="1946.13" width="10.4" height="10.4"/><ellipse cx="1028.54" cy="1949.43" rx="5.8" ry="6.3"/><ellipse cx="1025.5" cy="1958.93" rx="5.8" ry="6.3"/><ellipse cx="1055.13" cy="1958.17" rx="5.8" ry="6.3"/><ellipse cx="1064.62" cy="1963.49" rx="5.8" ry="6.3"/><ellipse cx="1074.12" cy="1956.27" rx="5.8" ry="6.3"/><ellipse cx="1022.84" cy="1968.42" rx="5.8" ry="6.3"/><ellipse cx="996.25" cy="1970.32" rx="5.8" ry="6.3"/><ellipse cx="1005.75" cy="1970.32" rx="5.8" ry="6.3"/><ellipse cx="988.65" cy="1977.92" rx="5.8" ry="6.3"/><ellipse cx="986.75" cy="1983.62" rx="5.8" ry="6.3"/><ellipse cx="1009.54" cy="1979.82" rx="5.8" ry="6.3"/><ellipse cx="1017.14" cy="1983.62" rx="5.8" ry="6.3"/><ellipse cx="1022.84" cy="1981.72" rx="5.8" ry="6.3"/><ellipse cx="1019.04" cy="1989.32" rx="5.8" ry="6.3"/><ellipse cx="1028.54" cy="1995.01" rx="5.8" ry="6.3"/><ellipse cx="971.56" cy="2000.71" rx="5.8" ry="6.3"/><ellipse cx="984.85" cy="2002.61" rx="5.8" ry="6.3"/><ellipse cx="1001.95" cy="2003.37" rx="5.8" ry="6.3"/><ellipse cx="1008.78" cy="2003.37" rx="5.8" ry="6.3"/><ellipse cx="1025.88" cy="2009.45" rx="5.8" ry="6.3"/><ellipse cx="1035" cy="2006.41" rx="5.8" ry="6.3"/><ellipse cx="925.97" cy="2015.15" rx="5.8" ry="6.3"/><ellipse cx="967.76" cy="2027.3" rx="5.8" ry="6.3"/><ellipse cx="963.2" cy="2033" rx="5.8" ry="6.3"/><ellipse cx="982.95" cy="2033" rx="5.8" ry="6.3"/><ellipse cx="982.19" cy="2041.74" rx="5.8" ry="6.3"/><ellipse cx="1057.03" cy="2025.4" rx="5.8" ry="6.3"/></g>
<g fill="#0dc25a"><ellipse cx="1208.78" cy="1629.72" rx="5.8" ry="6.3"/><ellipse cx="1209.54" cy="1639.22" rx="5.8" ry="6.3"/><ellipse cx="1172.7" cy="1658.21" rx="5.8" ry="6.3"/><ellipse cx="1227.78" cy="1658.21" rx="5.8" ry="6.3"/><path d="M1199.29 1661.11 l6.6 6.6 l-6.6 6.6 l-6.6 -6.6z"/><ellipse cx="1239.93" cy="1676.07" rx="5.8" ry="6.3"/><ellipse cx="1162.82" cy="1686.32" rx="5.8" ry="6.3"/><rect x="1071.39" y="1690.62" width="10.4" height="10.4"/><ellipse cx="1144.97" cy="1704.56" rx="5.8" ry="6.3"/><rect x="1175.09" y="1699.36" width="10.4" height="10.4"/><rect x="1206.24" y="1699.36" width="10.4" height="10.4"/><rect x="1229.04" y="1727.09" width="10.4" height="10.4"/><rect x="1089.24" y="1735.45" width="10.4" height="10.4"/><ellipse cx="1157.5" cy="1741.41" rx="5.8" ry="6.3"/><ellipse cx="1148.01" cy="1750.9" rx="5.8" ry="6.3"/><path d="M1114.58 1744.3 l6.6 6.6 l-6.6 6.6 l-6.6 -6.6z"/><path d="M1216 1744.3 l6.6 6.6 l-6.6 6.6 l-6.6 -6.6z"/><ellipse cx="1154.46" cy="1769.14" rx="5.8" ry="6.3"/><ellipse cx="1154.46" cy="1776.73" rx="5.8" ry="6.3"/><ellipse cx="1141.17" cy="1794.97" rx="5.8" ry="6.3"/><ellipse cx="1114.77" cy="1751.9" rx="5.8" ry="6.3"/><ellipse cx="1148.2" cy="1751.9" rx="5.8" ry="6.3"/><ellipse cx="1215.81" cy="1751.9" rx="5.8" ry="6.3"/><ellipse cx="1153.89" cy="1768.99" rx="5.8" ry="6.3"/><ellipse cx="1153.89" cy="1778.49" rx="5.8" ry="6.3"/><path d="M1141.36 1790.88 l6.6 6.6 l-6.6 6.6 l-6.6 -6.6z"/><ellipse cx="1155.03" cy="1806.98" rx="5.8" ry="6.3"/><ellipse cx="1205.94" cy="1815.34" rx="5.8" ry="6.3"/><rect x="1218.21" y="1810.14" width="10.4" height="10.4"/><path d="M1187.32 1826.97 l6.6 6.6 l-6.6 6.6 l-6.6 -6.6z"/><rect x="1148.69" y="1847.36" width="10.4" height="10.4"/><rect x="1200.74" y="1847.36" width="10.4" height="10.4"/><rect x="1172.25" y="1865.6" width="10.4" height="10.4"/><path d="M1144.4 1873.31 l6.6 6.6 l-6.6 6.6 l-6.6 -6.6z"/><path d="M1200.62 1873.31 l6.6 6.6 l-6.6 6.6 l-6.6 -6.6z"/><ellipse cx="1163.39" cy="1889.41" rx="5.8" ry="6.3"/><ellipse cx="1075.26" cy="1898.15" rx="5.8" ry="6.3"/><ellipse cx="1074.12" cy="1905.75" rx="5.8" ry="6.3"/><rect x="1103.11" y="1892.95" width="10.4" height="10.4"/><ellipse cx="1129.96" cy="1916" rx="5.8" ry="6.3"/><ellipse cx="1172.89" cy="1906.89" rx="5.8" ry="6.3"/><ellipse cx="1179.72" cy="1916" rx="5.8" ry="6.3"/></g>
<g fill="#ffe40d"><rect x="1358.19" y="1366.97" width="10.4" height="10.4"/><ellipse cx="1313.25" cy="1400.66" rx="5.8" ry="6.3"/><ellipse cx="1320.47" cy="1410.16" rx="5.8" ry="6.3"/><path d="M1369.09 1421.42 l6.6 6.6 l-6.6 6.6 l-6.6 -6.6z"/><rect x="1234.73" y="1432.31" width="10.4" height="10.4"/><ellipse cx="1270.32" cy="1437.51" rx="5.8" ry="6.3"/><rect x="1333.5" y="1441.05" width="10.4" height="10.4"/><ellipse cx="1276.78" cy="1473.98" rx="5.8" ry="6.3"/><ellipse cx="1401.38" cy="1455.75" rx="5.8" ry="6.3"/><ellipse cx="1407.08" cy="1454.99" rx="5.8" ry="6.3"/><ellipse cx="1403.28" cy="1465.24" rx="5.8" ry="6.3"/><ellipse cx="1347.44" cy="1510.07" rx="5.8" ry="6.3"/><ellipse cx="1361.49" cy="1511.97" rx="5.8" ry="6.3"/><ellipse cx="1340.6" cy="1520.32" rx="5.8" ry="6.3"/><ellipse cx="1391.88" cy="1510.83" rx="5.8" ry="6.3"/><rect x="1368.83" y="1523.86" width="10.4" height="10.4"/><rect x="1386.68" y="1523.86" width="10.4" height="10.4"/><ellipse cx="1391.88" cy="1547.67" rx="5.8" ry="6.3"/><rect x="1246.13" y="1532.98" width="10.4" height="10.4"/><ellipse cx="1230.44" cy="1547.67" rx="5.8" ry="6.3"/><ellipse cx="1274.12" cy="1547.67" rx="5.8" ry="6.3"/><ellipse cx="1312.11" cy="1538.18" rx="5.8" ry="6.3"/><ellipse cx="1315.91" cy="1538.18" rx="5.8" ry="6.3"/><rect x="1277.66" y="1578.56" width="10.4" height="10.4"/><ellipse cx="1251.33" cy="1593.26" rx="5.8" ry="6.3"/><ellipse cx="1236.89" cy="1602.75" rx="5.8" ry="6.3"/><rect x="1222.58" y="1607.05" width="10.4" height="10.4"/><ellipse cx="1269.18" cy="1612.25" rx="5.8" ry="6.3"/><ellipse cx="1348.96" cy="1602.75" rx="5.8" ry="6.3"/><ellipse cx="1305.65" cy="1621.75" rx="5.8" ry="6.3"/><ellipse cx="1288.18" cy="1630.48" rx="5.8" ry="6.3"/><ellipse cx="1219.04" cy="1658.21" rx="5.8" ry="6.3"/><ellipse cx="1288.18" cy="1667.71" rx="5.8" ry="6.3"/><ellipse cx="1319.71" cy="1667.71" rx="5.8" ry="6.3"/><ellipse cx="1217.14" cy="1686.32" rx="5.8" ry="6.3"/><ellipse cx="1136.61" cy="1695.06" rx="5.8" ry="6.3"/><ellipse cx="1301.85" cy="1704.56" rx="5.8" ry="6.3"/><ellipse cx="1308.31" cy="1741.41" rx="5.8" ry="6.3"/><ellipse cx="1323.5" cy="1750.9" rx="5.8" ry="6.3"/></g>
<path d="M389.99 2145.14 L398.38 2144.81 L406.77 2144.44 L415.15 2144.04 L423.54 2143.6 L431.93 2143.13 L440.32 2142.62 L448.7 2142.06 L457.09 2141.47 L465.48 2140.83 L473.87 2140.15 L482.25 2139.42 L490.64 2138.64 L499.03 2137.81 L507.42 2136.93 L515.8 2136 L524.19 2135.02 L532.58 2133.98 L540.97 2132.88 L549.35 2131.72 L557.74 2130.51 L566.13 2129.23 L574.52 2127.88 L582.9 2126.48 L591.29 2125 L599.68 2123.46 L608.07 2121.85 L616.46 2120.17 L624.84 2118.42 L633.23 2116.59 L641.62 2114.69 L650.01 2112.7 L658.39 2110.65 L666.78 2108.51 L675.17 2106.28 L683.56 2103.98 L691.94 2101.59 L700.33 2099.12 L708.72 2096.55 L717.11 2093.9 L725.49 2091.16 L733.88 2088.32 L742.27 2085.39 L750.66 2082.37 L759.04 2079.24 L767.43 2076.02 L775.82 2072.7 L784.21 2069.28 L792.59 2065.76 L800.98 2062.13 L809.37 2058.39 L817.76 2054.55 L826.15 2050.59 L834.53 2046.53 L842.92 2042.36 L851.31 2038.07 L859.7 2033.66 L868.08 2029.14 L876.47 2024.5 L884.86 2019.74 L893.25 2014.86 L901.63 2009.85 L910.02 2004.72 L918.41 1999.47 L926.8 1994.09 L935.18 1988.57 L943.57 1982.93 L951.96 1977.16 L960.35 1971.25 L968.73 1965.21 L977.12 1959.03 L985.51 1952.71 L993.9 1946.25 L1002.28 1939.65 L1010.67 1932.91 L1019.06 1926.02 L1027.45 1918.99 L1035.84 1911.81 L1044.22 1904.48 L1052.61 1897 L1061 1889.37 L1069.39 1881.58 L1077.77 1873.64 L1086.16 1865.54 L1094.55 1857.29 L1102.94 1848.87 L1111.32 1840.3 L1119.71 1831.56 L1128.1 1822.66 L1136.49 1813.59 L1144.87 1804.35 L1153.26 1794.95 L1161.65 1785.37 L1170.04 1775.62 L1178.42 1765.7 L1186.81 1755.61 L1195.2 1745.33 L1203.59 1734.88 L1211.97 1724.25 L1220.36 1713.44 L1228.75 1702.45 L1237.14 1691.27 L1245.53 1679.91 L1253.91 1668.36 L1262.3 1656.62 L1270.69 1644.69 L1279.08 1632.57 L1287.46 1620.25 L1295.85 1607.74 L1304.24 1595.03 L1312.63 1582.13 L1321.01 1569.03 L1329.4 1555.72 L1337.79 1542.21 L1346.18 1528.5 L1354.56 1514.59 L1362.95 1500.46 L1371.34 1486.13 L1379.73 1471.59 L1388.11 1456.83 L1396.5 1441.86" fill="none" stroke="#737373" stroke-width="5" stroke-linecap="butt" stroke-linejoin="round"/>
</g>
<line x1="162.5" x2="162.5" y1="1265.8" y2="2190" stroke="#858585" stroke-width="3.4"/>
<line x1="1466.6" x2="1466.6" y1="1265.8" y2="2190" stroke="#555555" stroke-width="4"/>
<line x1="161" x2="1468.2" y1="2188.5" y2="2188.5" stroke="#505050" stroke-width="4"/>
<rect x="161" y="1182.3" width="1306" height="83.5" fill="#d9d9d9"/>
<g stroke-width="4.8" stroke-linecap="round">
<line x1="161" x2="1467" y1="1182.3" y2="1182.3" stroke="#6e6e6e"/>
<line x1="161" x2="1467" y1="1265.5" y2="1265.5" stroke="#414141"/>
<line x1="161" x2="161" y1="1182.3" y2="1265.8" stroke="#414141"/>
<line x1="1467" x2="1467" y1="1182.3" y2="1265.8" stroke="#3a3a3a"/>
</g>
<text transform="translate(812.7 1235.8) scale(1.08 1)" font-size="41" fill="#111" stroke="#111" text-anchor="middle" font-weight="bold">Biparietal Distance</text>
<g stroke="#3d3d3d" stroke-width="3.6"><line x1="148.5" x2="162.5" y1="2147.3" y2="2147.3"/><line x1="148.5" x2="162.5" y1="1962.9" y2="1962.9"/><line x1="148.5" x2="162.5" y1="1778.5" y2="1778.5"/><line x1="148.5" x2="162.5" y1="1594.1" y2="1594.1"/><line x1="148.5" x2="162.5" y1="1409.7" y2="1409.7"/><line x1="219" x2="219" y1="2188.5" y2="2202.5"/><line x1="515.6" x2="515.6" y1="2188.5" y2="2202.5"/><line x1="812.2" x2="812.2" y1="2188.5" y2="2202.5"/><line x1="1108.8" x2="1108.8" y1="2188.5" y2="2202.5"/><line x1="1405.4" x2="1405.4" y1="2188.5" y2="2202.5"/></g>
<text transform="translate(138 2163.3) scale(0.97 1)" font-size="44.5" fill="#4d4d4d" stroke="#4d4d4d" text-anchor="end" font-weight="normal" stroke-width="0">0</text>
<text transform="translate(138 1978.9) scale(0.97 1)" font-size="44.5" fill="#4d4d4d" stroke="#4d4d4d" text-anchor="end" font-weight="normal" stroke-width="0">200</text>
<text transform="translate(138 1794.5) scale(0.97 1)" font-size="44.5" fill="#4d4d4d" stroke="#4d4d4d" text-anchor="end" font-weight="normal" stroke-width="0">400</text>
<text transform="translate(138 1610.1) scale(0.97 1)" font-size="44.5" fill="#4d4d4d" stroke="#4d4d4d" text-anchor="end" font-weight="normal" stroke-width="0">600</text>
<text transform="translate(138 1425.7) scale(0.97 1)" font-size="44.5" fill="#4d4d4d" stroke="#4d4d4d" text-anchor="end" font-weight="normal" stroke-width="0">800</text>
<text transform="translate(219 2245.5) scale(0.97 1)" font-size="44.5" fill="#4d4d4d" stroke="#4d4d4d" text-anchor="middle" font-weight="normal" stroke-width="0">0</text>
<text transform="translate(515.6 2245.5) scale(0.97 1)" font-size="44.5" fill="#4d4d4d" stroke="#4d4d4d" text-anchor="middle" font-weight="normal" stroke-width="0">1</text>
<text transform="translate(812.2 2245.5) scale(0.97 1)" font-size="44.5" fill="#4d4d4d" stroke="#4d4d4d" text-anchor="middle" font-weight="normal" stroke-width="0">2</text>
<text transform="translate(1108.8 2245.5) scale(0.97 1)" font-size="44.5" fill="#4d4d4d" stroke="#4d4d4d" text-anchor="middle" font-weight="normal" stroke-width="0">3</text>
<text transform="translate(1405.4 2245.5) scale(0.97 1)" font-size="44.5" fill="#4d4d4d" stroke="#4d4d4d" text-anchor="middle" font-weight="normal" stroke-width="0">4</text>
<text transform="translate(813.25 2297) scale(1.02 1)" font-size="44" fill="#111" stroke="#111" text-anchor="middle" font-weight="normal">BPD (cm)</text>
<text transform="translate(46.5 1726.15) rotate(-90) scale(1.02 1)" font-size="43" fill="#111" stroke="#111" text-anchor="middle" font-weight="normal">Fetal weight (g)</text>
<text transform="translate(218.5 1395.3) scale(1.02 1)" font-size="44" fill="#111" stroke="#111" text-anchor="start" font-weight="normal">EFW</text>
<text transform="translate(333 1395.3) scale(1.02 1)" font-size="44" fill="#111" stroke="#111" text-anchor="start" font-weight="normal">=</text>
<text transform="translate(370.5 1395.3) scale(0.99 1)" font-size="44" fill="#111" stroke="#111" text-anchor="start" font-weight="normal">12.228</text>
<text transform="translate(518.5 1396.8) scale(1.02 1)" font-size="44" fill="#111" stroke="#111" text-anchor="middle" font-weight="normal">&#183;</text>
<text transform="translate(543 1395.3) scale(1.02 1)" font-size="44" fill="#111" stroke="#111" text-anchor="start" font-weight="normal">BPD</text>
<text transform="translate(636.5 1370.3) scale(1.02 1)" font-size="30" fill="#111" stroke="#111" text-anchor="start" font-weight="normal">3</text>
<text transform="translate(634.5 1411.8) scale(1.09 1)" font-size="30" fill="#111" stroke="#111" text-anchor="start" font-weight="normal">cm</text>
<text transform="translate(218.5 1502.8) scale(1.02 1)" font-size="44" fill="#111" stroke="#111" text-anchor="start" font-weight="normal">RSE</text>
<text transform="translate(321.5 1502.8) scale(1.02 1)" font-size="44" fill="#111" stroke="#111" text-anchor="start" font-weight="normal">=</text>
<text transform="translate(360.5 1502.8) scale(0.99 1)" font-size="44" fill="#111" stroke="#111" text-anchor="start" font-weight="normal">71.03</text>
</g>
<g>
<clipPath id="cp2"><rect x="162.5" y="2435.1" width="1303.5" height="921.8"/></clipPath>
<g clip-path="url(#cp2)">
<g stroke="#eaeaea"><line x1="162.5" x2="1466" y1="3224.1" y2="3224.1" stroke-width="2.6" stroke="#eeeeee"/><line x1="162.5" x2="1466" y1="3039.7" y2="3039.7" stroke-width="2.6" stroke="#eeeeee"/><line x1="162.5" x2="1466" y1="2855.3" y2="2855.3" stroke-width="2.6" stroke="#eeeeee"/><line x1="162.5" x2="1466" y1="2670.9" y2="2670.9" stroke-width="2.6" stroke="#eeeeee"/><line x1="162.5" x2="1466" y1="2486.5" y2="2486.5" stroke-width="2.6" stroke="#eeeeee"/><line x1="358.4" x2="358.4" y1="2435.1" y2="3356.9" stroke-width="2.6" stroke="#eeeeee"/><line x1="634.6" x2="634.6" y1="2435.1" y2="3356.9" stroke-width="2.6" stroke="#eeeeee"/><line x1="910.8" x2="910.8" y1="2435.1" y2="3356.9" stroke-width="2.6" stroke="#eeeeee"/><line x1="1187" x2="1187" y1="2435.1" y2="3356.9" stroke-width="2.6" stroke="#eeeeee"/><line x1="162.5" x2="1466" y1="3316.6" y2="3316.6" stroke-width="4"/><line x1="162.5" x2="1466" y1="3132.2" y2="3132.2" stroke-width="4"/><line x1="162.5" x2="1466" y1="2947.8" y2="2947.8" stroke-width="4"/><line x1="162.5" x2="1466" y1="2763.4" y2="2763.4" stroke-width="4"/><line x1="162.5" x2="1466" y1="2579" y2="2579" stroke-width="4"/><line x1="219.3" x2="219.3" y1="2435.1" y2="3356.9" stroke-width="4"/><line x1="495.5" x2="495.5" y1="2435.1" y2="3356.9" stroke-width="4"/><line x1="771.7" x2="771.7" y1="2435.1" y2="3356.9" stroke-width="4"/><line x1="1047.9" x2="1047.9" y1="2435.1" y2="3356.9" stroke-width="4"/><line x1="1324.1" x2="1324.1" y1="2435.1" y2="3356.9" stroke-width="4"/></g>
<path d="M382.26 3232.27 L390.77 3231.97 L399.29 3231.64 L407.81 3231.28 L416.32 3230.88 L424.84 3230.44 L433.36 3229.97 L441.87 3229.46 L450.39 3228.91 L458.9 3228.31 L467.42 3227.68 L475.94 3226.99 L484.45 3226.26 L492.97 3225.48 L501.48 3224.66 L510 3223.78 L518.52 3222.84 L527.03 3221.86 L535.55 3220.81 L544.07 3219.71 L552.58 3218.55 L561.1 3217.33 L569.61 3216.04 L578.13 3214.69 L586.65 3213.28 L595.16 3211.8 L603.68 3210.25 L612.19 3208.63 L620.71 3206.94 L629.23 3205.17 L637.74 3203.33 L646.26 3201.42 L654.78 3199.42 L663.29 3197.35 L671.81 3195.2 L680.32 3192.96 L688.84 3190.64 L697.36 3188.23 L705.87 3185.74 L714.39 3183.15 L722.9 3180.48 L731.42 3177.71 L739.94 3174.85 L748.45 3171.9 L756.97 3168.85 L765.49 3165.7 L774 3162.45 L782.52 3159.1 L791.03 3155.64 L799.55 3152.09 L808.07 3148.42 L816.58 3144.65 L825.1 3140.77 L833.61 3136.78 L842.13 3132.68 L850.65 3128.46 L859.16 3124.13 L867.68 3119.68 L876.2 3115.11 L884.71 3110.42 L893.23 3105.61 L901.74 3100.68 L910.26 3095.63 L918.78 3090.44 L927.29 3085.13 L935.81 3079.69 L944.33 3074.12 L952.84 3068.42 L961.36 3062.58 L969.87 3056.61 L978.39 3050.5 L986.91 3044.25 L995.42 3037.86 L1003.94 3031.33 L1012.45 3024.66 L1020.97 3017.84 L1029.49 3010.87 L1038 3003.76 L1046.52 2996.5 L1055.04 2989.08 L1063.55 2981.52 L1072.07 2973.79 L1080.58 2965.92 L1089.1 2957.88 L1097.62 2949.69 L1106.13 2941.34 L1114.65 2932.82 L1123.16 2924.15 L1131.68 2915.3 L1140.2 2906.29 L1148.71 2897.11 L1157.23 2887.77 L1165.75 2878.25 L1174.26 2868.55 L1182.78 2858.69 L1191.29 2848.64 L1199.81 2838.42 L1208.33 2828.02 L1216.84 2817.44 L1225.36 2806.68 L1233.87 2795.74 L1242.39 2784.61 L1250.91 2773.29 L1259.42 2761.78 L1267.94 2750.08 L1276.46 2738.2 L1284.97 2726.12 L1293.49 2713.84 L1302 2701.37 L1310.52 2688.7 L1319.04 2675.83 L1327.55 2662.76 L1336.07 2649.49 L1344.58 2636.01 L1353.1 2622.33 L1361.62 2608.44 L1370.13 2594.34 L1378.65 2580.04 L1387.17 2565.52 L1395.68 2550.78 L1404.2 2535.84 L1404.2 2700.86 L1395.68 2715.81 L1387.17 2730.54 L1378.65 2745.06 L1370.13 2759.37 L1361.62 2773.47 L1353.1 2787.36 L1344.58 2801.04 L1336.07 2814.51 L1327.55 2827.79 L1319.04 2840.86 L1310.52 2853.72 L1302 2866.39 L1293.49 2878.87 L1284.97 2891.14 L1276.46 2903.22 L1267.94 2915.11 L1259.42 2926.81 L1250.91 2938.31 L1242.39 2949.63 L1233.87 2960.76 L1225.36 2971.71 L1216.84 2982.47 L1208.33 2993.05 L1199.81 3003.45 L1191.29 3013.67 L1182.78 3023.71 L1174.26 3033.58 L1165.75 3043.27 L1157.23 3052.79 L1148.71 3062.14 L1140.2 3071.32 L1131.68 3080.33 L1123.16 3089.17 L1114.65 3097.85 L1106.13 3106.37 L1097.62 3114.72 L1089.1 3122.91 L1080.58 3130.94 L1072.07 3138.82 L1063.55 3146.54 L1055.04 3154.11 L1046.52 3161.52 L1038 3168.78 L1029.49 3175.9 L1020.97 3182.86 L1012.45 3189.68 L1003.94 3196.36 L995.42 3202.89 L986.91 3209.27 L978.39 3215.52 L969.87 3221.63 L961.36 3227.61 L952.84 3233.44 L944.33 3239.15 L935.81 3244.72 L927.29 3250.16 L918.78 3255.47 L910.26 3260.65 L901.74 3265.71 L893.23 3270.64 L884.71 3275.45 L876.2 3280.14 L867.68 3284.7 L859.16 3289.15 L850.65 3293.49 L842.13 3297.7 L833.61 3301.81 L825.1 3305.8 L816.58 3309.68 L808.07 3313.45 L799.55 3316.6 L791.03 3316.6 L782.52 3316.6 L774 3316.6 L765.49 3316.6 L756.97 3316.6 L748.45 3316.6 L739.94 3316.6 L731.42 3316.6 L722.9 3316.6 L714.39 3316.6 L705.87 3316.6 L697.36 3316.6 L688.84 3316.6 L680.32 3316.6 L671.81 3316.6 L663.29 3316.6 L654.78 3316.6 L646.26 3316.6 L637.74 3316.6 L629.23 3316.6 L620.71 3316.6 L612.19 3316.6 L603.68 3316.6 L595.16 3316.6 L586.65 3316.6 L578.13 3316.6 L569.61 3316.6 L561.1 3316.6 L552.58 3316.6 L544.07 3316.6 L535.55 3316.6 L527.03 3316.6 L518.52 3316.6 L510 3316.6 L501.48 3316.6 L492.97 3316.6 L484.45 3316.6 L475.94 3316.6 L467.42 3316.6 L458.9 3316.6 L450.39 3316.6 L441.87 3316.6 L433.36 3316.6 L424.84 3316.6 L416.32 3316.6 L407.81 3316.6 L399.29 3316.6 L390.77 3316.6 L382.26 3316.6 Z" fill="#d1d1d1" fill-opacity="0.9"/>
<g fill="#59056a"><ellipse cx="380" cy="3314" rx="5.8" ry="6.3"/><ellipse cx="405.93" cy="3313.09" rx="5.8" ry="6.3"/><ellipse cx="409.45" cy="3312.01" rx="5.8" ry="6.3"/><ellipse cx="410.9" cy="3312.13" rx="5.8" ry="6.3"/><ellipse cx="413.55" cy="3312.58" rx="5.8" ry="6.3"/><ellipse cx="416.27" cy="3312.3" rx="5.8" ry="6.3"/><ellipse cx="418.67" cy="3313.06" rx="5.8" ry="6.3"/><ellipse cx="421.83" cy="3312.32" rx="5.8" ry="6.3"/><ellipse cx="425" cy="3313.01" rx="5.8" ry="6.3"/><ellipse cx="427.33" cy="3313.02" rx="5.8" ry="6.3"/><ellipse cx="430.18" cy="3312.38" rx="5.8" ry="6.3"/><ellipse cx="432.91" cy="3311.54" rx="5.8" ry="6.3"/><ellipse cx="435.41" cy="3311.79" rx="5.8" ry="6.3"/><ellipse cx="437.15" cy="3312.76" rx="5.8" ry="6.3"/><ellipse cx="440.19" cy="3312.22" rx="5.8" ry="6.3"/><ellipse cx="444.05" cy="3312.33" rx="5.8" ry="6.3"/><ellipse cx="445.88" cy="3312.26" rx="5.8" ry="6.3"/><ellipse cx="449.05" cy="3312.66" rx="5.8" ry="6.3"/><ellipse cx="450.76" cy="3312.29" rx="5.8" ry="6.3"/><ellipse cx="453.75" cy="3311.82" rx="5.8" ry="6.3"/><ellipse cx="457.55" cy="3312.16" rx="5.8" ry="6.3"/><ellipse cx="459.78" cy="3312.55" rx="5.8" ry="6.3"/><ellipse cx="463.21" cy="3312.02" rx="5.8" ry="6.3"/><ellipse cx="465.24" cy="3312.11" rx="5.8" ry="6.3"/><ellipse cx="467.7" cy="3312.39" rx="5.8" ry="6.3"/><ellipse cx="470.26" cy="3312.12" rx="5.8" ry="6.3"/><ellipse cx="472.99" cy="3312.75" rx="5.8" ry="6.3"/><ellipse cx="476.14" cy="3312.63" rx="5.8" ry="6.3"/><ellipse cx="479.34" cy="3311.62" rx="5.8" ry="6.3"/></g>
<g fill="#2f5597"><ellipse cx="624" cy="3289" rx="5.8" ry="6.3"/><ellipse cx="652" cy="3295" rx="5.8" ry="6.3"/><ellipse cx="686" cy="3290" rx="5.8" ry="6.3"/><ellipse cx="729" cy="3277" rx="5.8" ry="6.3"/><ellipse cx="638.05" cy="3281.48" rx="5.8" ry="6.3"/><ellipse cx="640.92" cy="3274.84" rx="5.8" ry="6.3"/><ellipse cx="641.92" cy="3277.21" rx="5.8" ry="6.3"/><ellipse cx="644.17" cy="3275.45" rx="5.8" ry="6.3"/><ellipse cx="646.51" cy="3278.72" rx="5.8" ry="6.3"/><ellipse cx="650.19" cy="3280.3" rx="5.8" ry="6.3"/><ellipse cx="651.35" cy="3278.77" rx="5.8" ry="6.3"/><ellipse cx="654.64" cy="3273.97" rx="5.8" ry="6.3"/><ellipse cx="657.41" cy="3280.38" rx="5.8" ry="6.3"/><ellipse cx="658.51" cy="3280.19" rx="5.8" ry="6.3"/><ellipse cx="661.18" cy="3276.29" rx="5.8" ry="6.3"/><ellipse cx="664.64" cy="3278.82" rx="5.8" ry="6.3"/><ellipse cx="665.43" cy="3275.56" rx="5.8" ry="6.3"/><ellipse cx="668.44" cy="3274.62" rx="5.8" ry="6.3"/><ellipse cx="670.18" cy="3274.34" rx="5.8" ry="6.3"/><ellipse cx="673.51" cy="3271.72" rx="5.8" ry="6.3"/><ellipse cx="675.54" cy="3274.95" rx="5.8" ry="6.3"/><ellipse cx="676.88" cy="3273.99" rx="5.8" ry="6.3"/><ellipse cx="680.36" cy="3275.21" rx="5.8" ry="6.3"/><ellipse cx="681.65" cy="3278.9" rx="5.8" ry="6.3"/><ellipse cx="685.35" cy="3278.55" rx="5.8" ry="6.3"/><ellipse cx="686.42" cy="3272.83" rx="5.8" ry="6.3"/><ellipse cx="688.64" cy="3276.79" rx="5.8" ry="6.3"/><ellipse cx="691.41" cy="3271.41" rx="5.8" ry="6.3"/><ellipse cx="694.04" cy="3277.49" rx="5.8" ry="6.3"/><ellipse cx="697.13" cy="3272.06" rx="5.8" ry="6.3"/><ellipse cx="698.22" cy="3277.27" rx="5.8" ry="6.3"/><ellipse cx="701.35" cy="3275.31" rx="5.8" ry="6.3"/><ellipse cx="702.79" cy="3270.07" rx="5.8" ry="6.3"/><ellipse cx="706.26" cy="3272.79" rx="5.8" ry="6.3"/><ellipse cx="707.45" cy="3276.81" rx="5.8" ry="6.3"/><ellipse cx="710.85" cy="3275.49" rx="5.8" ry="6.3"/></g>
<g fill="#0d8f8c"><ellipse cx="926.12" cy="3098.67" rx="5.8" ry="6.3"/><ellipse cx="893.07" cy="3124.88" rx="5.8" ry="6.3"/><ellipse cx="925.36" cy="3120.32" rx="5.8" ry="6.3"/><ellipse cx="934.85" cy="3124.88" rx="5.8" ry="6.3"/><ellipse cx="921.56" cy="3129.82" rx="5.8" ry="6.3"/><ellipse cx="913.96" cy="3137.42" rx="5.8" ry="6.3"/><ellipse cx="970.94" cy="3118.42" rx="5.8" ry="6.3"/><ellipse cx="962.58" cy="3127.92" rx="5.8" ry="6.3"/><ellipse cx="953.85" cy="3134.76" rx="5.8" ry="6.3"/><ellipse cx="951.95" cy="3141.22" rx="5.8" ry="6.3"/><ellipse cx="967.14" cy="3145.01" rx="5.8" ry="6.3"/><ellipse cx="902.56" cy="3148.81" rx="5.8" ry="6.3"/><ellipse cx="912.06" cy="3153.75" rx="5.8" ry="6.3"/><ellipse cx="965.24" cy="3154.51" rx="5.8" ry="6.3"/><ellipse cx="995.63" cy="3150.71" rx="5.8" ry="6.3"/><ellipse cx="927.26" cy="3162.11" rx="5.8" ry="6.3"/><ellipse cx="904.46" cy="3170.85" rx="5.8" ry="6.3"/><ellipse cx="927.26" cy="3172.74" rx="5.8" ry="6.3"/><ellipse cx="974.74" cy="3170.47" rx="5.8" ry="6.3"/><ellipse cx="956.89" cy="3172.74" rx="5.8" ry="6.3"/><ellipse cx="963.34" cy="3184.14" rx="5.8" ry="6.3"/><ellipse cx="884.33" cy="3177.3" rx="5.8" ry="6.3"/><ellipse cx="872.17" cy="3193.26" rx="5.8" ry="6.3"/><ellipse cx="862.68" cy="3211.49" rx="5.8" ry="6.3"/><ellipse cx="906.36" cy="3201.99" rx="5.8" ry="6.3"/><ellipse cx="939.41" cy="3201.99" rx="5.8" ry="6.3"/><ellipse cx="862.5" cy="3212.5" rx="5.8" ry="6.3"/><ellipse cx="872.5" cy="3197.5" rx="5.8" ry="6.3"/></g>
<g fill="#0dc25a"><ellipse cx="1191.31" cy="2809.34" rx="5.8" ry="6.3"/><ellipse cx="1263.87" cy="2800.23" rx="5.8" ry="6.3"/><ellipse cx="1201.19" cy="2826.82" rx="5.8" ry="6.3"/><ellipse cx="1217.14" cy="2826.82" rx="5.8" ry="6.3"/><ellipse cx="1212.58" cy="2837.08" rx="5.8" ry="6.3"/><rect x="1194.85" y="2850.87" width="10.4" height="10.4"/><ellipse cx="1213.34" cy="2864.81" rx="5.8" ry="6.3"/><ellipse cx="1222.84" cy="2873.16" rx="5.8" ry="6.3"/><ellipse cx="1178.02" cy="2873.16" rx="5.8" ry="6.3"/><ellipse cx="1190.55" cy="2901.65" rx="5.8" ry="6.3"/><ellipse cx="1185.99" cy="2910.39" rx="5.8" ry="6.3"/><ellipse cx="1179.15" cy="2919.51" rx="5.8" ry="6.3"/><ellipse cx="1212.2" cy="2919.51" rx="5.8" ry="6.3"/><ellipse cx="1219.04" cy="2919.51" rx="5.8" ry="6.3"/><ellipse cx="1203.85" cy="2910.39" rx="5.8" ry="6.3"/><ellipse cx="1189.79" cy="2940.78" rx="5.8" ry="6.3"/><ellipse cx="1182.95" cy="2949.14" rx="5.8" ry="6.3"/><ellipse cx="1169.66" cy="2966.23" rx="5.8" ry="6.3"/><ellipse cx="1182.95" cy="2973.83" rx="5.8" ry="6.3"/><ellipse cx="1187.46" cy="2907.6" rx="5.8" ry="6.3"/><ellipse cx="1179.87" cy="2918.23" rx="5.8" ry="6.3"/><ellipse cx="1191.26" cy="2937.99" rx="5.8" ry="6.3"/><ellipse cx="1181.77" cy="2947.48" rx="5.8" ry="6.3"/><ellipse cx="1168.47" cy="2966.48" rx="5.8" ry="6.3"/><ellipse cx="1183.67" cy="2975.21" rx="5.8" ry="6.3"/><ellipse cx="1122.89" cy="2984.33" rx="5.8" ry="6.3"/><ellipse cx="1138.08" cy="2982.81" rx="5.8" ry="6.3"/><ellipse cx="1151.38" cy="3001.8" rx="5.8" ry="6.3"/><ellipse cx="1146.44" cy="3011.3" rx="5.8" ry="6.3"/><ellipse cx="1129.72" cy="3021.56" rx="5.8" ry="6.3"/><ellipse cx="1178.73" cy="3021.56" rx="5.8" ry="6.3"/><ellipse cx="1139.22" cy="3048.15" rx="5.8" ry="6.3"/><ellipse cx="1178.73" cy="3048.15" rx="5.8" ry="6.3"/><ellipse cx="1130.48" cy="3057.64" rx="5.8" ry="6.3"/><ellipse cx="1136.18" cy="3067.14" rx="5.8" ry="6.3"/><rect x="1178.47" y="3061.94" width="10.4" height="10.4"/><ellipse cx="1103.89" cy="3076.64" rx="5.8" ry="6.3"/><ellipse cx="1096.3" cy="3086.13" rx="5.8" ry="6.3"/><ellipse cx="1117.19" cy="3086.13" rx="5.8" ry="6.3"/></g>
<g fill="#ffe40d"><ellipse cx="1407.08" cy="2541.54" rx="5.8" ry="6.3"/><ellipse cx="1388.84" cy="2570.03" rx="5.8" ry="6.3"/><ellipse cx="1350.09" cy="2578.77" rx="5.8" ry="6.3"/><ellipse cx="1372.13" cy="2595.86" rx="5.8" ry="6.3"/><ellipse cx="1399.48" cy="2606.5" rx="5.8" ry="6.3"/><ellipse cx="1346.3" cy="2604.6" rx="5.8" ry="6.3"/><ellipse cx="1342.5" cy="2612.95" rx="5.8" ry="6.3"/><ellipse cx="1337.94" cy="2623.59" rx="5.8" ry="6.3"/><ellipse cx="1360.73" cy="2615.61" rx="5.8" ry="6.3"/><ellipse cx="1384.28" cy="2624.35" rx="5.8" ry="6.3"/><ellipse cx="1355.03" cy="2633.09" rx="5.8" ry="6.3"/><ellipse cx="1341.36" cy="2643.34" rx="5.8" ry="6.3"/><rect x="1335.4" y="2673.47" width="10.4" height="10.4"/><rect x="1349.83" y="2673.47" width="10.4" height="10.4"/><ellipse cx="1386.18" cy="2678.67" rx="5.8" ry="6.3"/><ellipse cx="1375.93" cy="2688.93" rx="5.8" ry="6.3"/><ellipse cx="1315.15" cy="2698.42" rx="5.8" ry="6.3"/><ellipse cx="1342.5" cy="2698.42" rx="5.8" ry="6.3"/><ellipse cx="1293.11" cy="2707.16" rx="5.8" ry="6.3"/><ellipse cx="1361.49" cy="2707.16" rx="5.8" ry="6.3"/><ellipse cx="1337.56" cy="2716.66" rx="5.8" ry="6.3"/><ellipse cx="1369.85" cy="2718.18" rx="5.8" ry="6.3"/><ellipse cx="1388.08" cy="2718.18" rx="5.8" ry="6.3"/><ellipse cx="1340.6" cy="2753.5" rx="5.8" ry="6.3"/><ellipse cx="1346.3" cy="2763" rx="5.8" ry="6.3"/><ellipse cx="1377.83" cy="2771.74" rx="5.8" ry="6.3"/><ellipse cx="1269.18" cy="2771.74" rx="5.8" ry="6.3"/><ellipse cx="1318.95" cy="2781.99" rx="5.8" ry="6.3"/><ellipse cx="1339.84" cy="2790.73" rx="5.8" ry="6.3"/><ellipse cx="1323.5" cy="2800.23" rx="5.8" ry="6.3"/><ellipse cx="1328.44" cy="2826.82" rx="5.8" ry="6.3"/><ellipse cx="1345.54" cy="2836.32" rx="5.8" ry="6.3"/><ellipse cx="1277.92" cy="2836.32" rx="5.8" ry="6.3"/><ellipse cx="1299.95" cy="2856.07" rx="5.8" ry="6.3"/><ellipse cx="1326.54" cy="2864.43" rx="5.8" ry="6.3"/><rect x="1298.17" y="2867.96" width="10.4" height="10.4"/><rect x="1298.17" y="2905.19" width="10.4" height="10.4"/><rect x="1257.53" y="2914.31" width="10.4" height="10.4"/></g>
<path d="M382.26 3314.78 L390.77 3314.48 L399.29 3314.15 L407.81 3313.79 L416.32 3313.39 L424.84 3312.96 L433.36 3312.48 L441.87 3311.97 L450.39 3311.42 L458.9 3310.83 L467.42 3310.19 L475.94 3309.51 L484.45 3308.78 L492.97 3308 L501.48 3307.17 L510 3306.29 L518.52 3305.36 L527.03 3304.37 L535.55 3303.32 L544.07 3302.22 L552.58 3301.06 L561.1 3299.84 L569.61 3298.56 L578.13 3297.21 L586.65 3295.79 L595.16 3294.31 L603.68 3292.76 L612.19 3291.14 L620.71 3289.45 L629.23 3287.69 L637.74 3285.85 L646.26 3283.93 L654.78 3281.94 L663.29 3279.86 L671.81 3277.71 L680.32 3275.47 L688.84 3273.15 L697.36 3270.74 L705.87 3268.25 L714.39 3265.66 L722.9 3262.99 L731.42 3260.23 L739.94 3257.37 L748.45 3254.41 L756.97 3251.36 L765.49 3248.21 L774 3244.96 L782.52 3241.61 L791.03 3238.16 L799.55 3234.6 L808.07 3230.94 L816.58 3227.16 L825.1 3223.28 L833.61 3219.29 L842.13 3215.19 L850.65 3210.97 L859.16 3206.64 L867.68 3202.19 L876.2 3197.62 L884.71 3192.94 L893.23 3188.13 L901.74 3183.2 L910.26 3178.14 L918.78 3172.96 L927.29 3167.64 L935.81 3162.2 L944.33 3156.63 L952.84 3150.93 L961.36 3145.09 L969.87 3139.12 L978.39 3133.01 L986.91 3126.76 L995.42 3120.37 L1003.94 3113.84 L1012.45 3107.17 L1020.97 3100.35 L1029.49 3093.38 L1038 3086.27 L1046.52 3079.01 L1055.04 3071.59 L1063.55 3064.03 L1072.07 3056.31 L1080.58 3048.43 L1089.1 3040.4 L1097.62 3032.21 L1106.13 3023.85 L1114.65 3015.34 L1123.16 3006.66 L1131.68 2997.82 L1140.2 2988.81 L1148.71 2979.63 L1157.23 2970.28 L1165.75 2960.76 L1174.26 2951.07 L1182.78 2941.2 L1191.29 2931.16 L1199.81 2920.94 L1208.33 2910.54 L1216.84 2899.96 L1225.36 2889.2 L1233.87 2878.25 L1242.39 2867.12 L1250.91 2855.8 L1259.42 2844.29 L1267.94 2832.6 L1276.46 2820.71 L1284.97 2808.63 L1293.49 2796.35 L1302 2783.88 L1310.52 2771.21 L1319.04 2758.34 L1327.55 2745.27 L1336.07 2732 L1344.58 2718.52 L1353.1 2704.84 L1361.62 2690.95 L1370.13 2676.86 L1378.65 2662.55 L1387.17 2648.03 L1395.68 2633.3 L1404.2 2618.35" fill="none" stroke="#737373" stroke-width="5" stroke-linecap="butt" stroke-linejoin="round"/>
</g>
<line x1="162.5" x2="162.5" y1="2435.1" y2="3358.4" stroke="#858585" stroke-width="3.4"/>
<line x1="1466.6" x2="1466.6" y1="2435.1" y2="3358.4" stroke="#555555" stroke-width="4"/>
<line x1="161" x2="1468.2" y1="3356.9" y2="3356.9" stroke="#505050" stroke-width="4"/>
<rect x="161" y="2351.6" width="1306" height="83.5" fill="#d9d9d9"/>
<g stroke-width="4.8" stroke-linecap="round">
<line x1="161" x2="1467" y1="2351.6" y2="2351.6" stroke="#6e6e6e"/>
<line x1="161" x2="1467" y1="2434.8" y2="2434.8" stroke="#414141"/>
<line x1="161" x2="161" y1="2351.6" y2="2435.1" stroke="#414141"/>
<line x1="1467" x2="1467" y1="2351.6" y2="2435.1" stroke="#3a3a3a"/>
</g>
<text transform="translate(812.7 2405.1) scale(1.08 1)" font-size="41" fill="#111" stroke="#111" text-anchor="middle" font-weight="bold">Rostro-Occipital Distance</text>
<g stroke="#3d3d3d" stroke-width="3.6"><line x1="148.5" x2="162.5" y1="3316.6" y2="3316.6"/><line x1="148.5" x2="162.5" y1="3132.2" y2="3132.2"/><line x1="148.5" x2="162.5" y1="2947.8" y2="2947.8"/><line x1="148.5" x2="162.5" y1="2763.4" y2="2763.4"/><line x1="148.5" x2="162.5" y1="2579" y2="2579"/><line x1="219.3" x2="219.3" y1="3356.9" y2="3370.9"/><line x1="495.5" x2="495.5" y1="3356.9" y2="3370.9"/><line x1="771.7" x2="771.7" y1="3356.9" y2="3370.9"/><line x1="1047.9" x2="1047.9" y1="3356.9" y2="3370.9"/><line x1="1324.1" x2="1324.1" y1="3356.9" y2="3370.9"/></g>
<text transform="translate(138 3332.6) scale(0.97 1)" font-size="44.5" fill="#4d4d4d" stroke="#4d4d4d" text-anchor="end" font-weight="normal" stroke-width="0">0</text>
<text transform="translate(138 3148.2) scale(0.97 1)" font-size="44.5" fill="#4d4d4d" stroke="#4d4d4d" text-anchor="end" font-weight="normal" stroke-width="0">200</text>
<text transform="translate(138 2963.8) scale(0.97 1)" font-size="44.5" fill="#4d4d4d" stroke="#4d4d4d" text-anchor="end" font-weight="normal" stroke-width="0">400</text>
<text transform="translate(138 2779.4) scale(0.97 1)" font-size="44.5" fill="#4d4d4d" stroke="#4d4d4d" text-anchor="end" font-weight="normal" stroke-width="0">600</text>
<text transform="translate(138 2595) scale(0.97 1)" font-size="44.5" fill="#4d4d4d" stroke="#4d4d4d" text-anchor="end" font-weight="normal" stroke-width="0">800</text>
<text transform="translate(219.3 3413.9) scale(0.97 1)" font-size="44.5" fill="#4d4d4d" stroke="#4d4d4d" text-anchor="middle" font-weight="normal" stroke-width="0">0</text>
<text transform="translate(495.5 3413.9) scale(0.97 1)" font-size="44.5" fill="#4d4d4d" stroke="#4d4d4d" text-anchor="middle" font-weight="normal" stroke-width="0">2</text>
<text transform="translate(771.7 3413.9) scale(0.97 1)" font-size="44.5" fill="#4d4d4d" stroke="#4d4d4d" text-anchor="middle" font-weight="normal" stroke-width="0">4</text>
<text transform="translate(1047.9 3413.9) scale(0.97 1)" font-size="44.5" fill="#4d4d4d" stroke="#4d4d4d" text-anchor="middle" font-weight="normal" stroke-width="0">6</text>
<text transform="translate(1324.1 3413.9) scale(0.97 1)" font-size="44.5" fill="#4d4d4d" stroke="#4d4d4d" text-anchor="middle" font-weight="normal" stroke-width="0">8</text>
<text transform="translate(813.25 3465.4) scale(1.02 1)" font-size="44" fill="#111" stroke="#111" text-anchor="middle" font-weight="normal">ROD (cm)</text>
<text transform="translate(46.5 2895) rotate(-90) scale(1.02 1)" font-size="43" fill="#111" stroke="#111" text-anchor="middle" font-weight="normal">Fetal weight [g]</text>
<text transform="translate(218.5 2564.6) scale(1.02 1)" font-size="44" fill="#111" stroke="#111" text-anchor="start" font-weight="normal">EFW</text>
<text transform="translate(333 2564.6) scale(1.02 1)" font-size="44" fill="#111" stroke="#111" text-anchor="start" font-weight="normal">=</text>
<text transform="translate(370.5 2564.6) scale(0.99 1)" font-size="44" fill="#111" stroke="#111" text-anchor="start" font-weight="normal">1.199</text>
<text transform="translate(494.5 2566.1) scale(1.02 1)" font-size="44" fill="#111" stroke="#111" text-anchor="middle" font-weight="normal">&#183;</text>
<text transform="translate(520.5 2564.6) scale(1.02 1)" font-size="44" fill="#111" stroke="#111" text-anchor="start" font-weight="normal">ROD</text>
<text transform="translate(620 2539.6) scale(1.02 1)" font-size="30" fill="#111" stroke="#111" text-anchor="start" font-weight="normal">3</text>
<text transform="translate(618 2581.1) scale(1.09 1)" font-size="30" fill="#111" stroke="#111" text-anchor="start" font-weight="normal">cm</text>
<text transform="translate(218.5 2672.1) scale(1.02 1)" font-size="44" fill="#111" stroke="#111" text-anchor="start" font-weight="normal">RSE</text>
<text transform="translate(321.5 2672.1) scale(1.02 1)" font-size="44" fill="#111" stroke="#111" text-anchor="start" font-weight="normal">=</text>
<text transform="translate(360.5 2672.1) scale(0.99 1)" font-size="44" fill="#111" stroke="#111" text-anchor="start" font-weight="normal">45.66</text>
</g>
<text transform="translate(234 3594) scale(1.02 1)" font-size="48.5" fill="#111" stroke="#111" text-anchor="start" font-weight="normal">Day of pregnancy</text>
<circle cx="672.2" cy="3575.3" r="16.2" fill="#59056a"/>
<text transform="translate(727.7 3590.5) scale(0.95 1)" font-size="41.8" fill="#151515" stroke="#151515" text-anchor="start" font-weight="normal" stroke-width="0.35">36</text>
<circle cx="827" cy="3575.3" r="16.2" fill="#2f5597"/>
<text transform="translate(882.5 3590.5) scale(0.95 1)" font-size="41.8" fill="#151515" stroke="#151515" text-anchor="start" font-weight="normal" stroke-width="0.35">50</text>
<circle cx="983.7" cy="3575.3" r="16.2" fill="#0d8f8c"/>
<text transform="translate(1037.2 3590.5) scale(0.95 1)" font-size="41.8" fill="#151515" stroke="#151515" text-anchor="start" font-weight="normal" stroke-width="0.35">64</text>
<circle cx="1138" cy="3575.3" r="16.2" fill="#0dc25a"/>
<text transform="translate(1192 3590.5) scale(0.95 1)" font-size="41.8" fill="#151515" stroke="#151515" text-anchor="start" font-weight="normal" stroke-width="0.35">79</text>
<circle cx="1292.8" cy="3575.3" r="16.2" fill="#ffe40d"/>
<text transform="translate(1346.8 3590.5) scale(0.95 1)" font-size="41.8" fill="#151515" stroke="#151515" text-anchor="start" font-weight="normal" stroke-width="0.35">92</text>
</svg>
</body></html>
